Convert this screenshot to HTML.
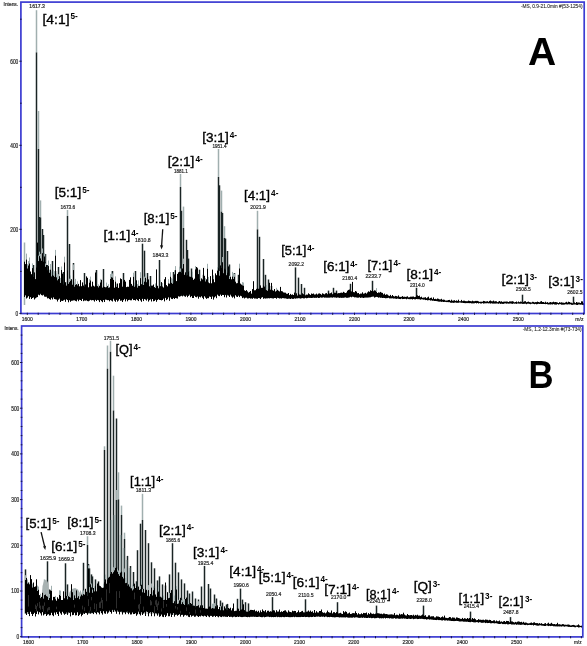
<!DOCTYPE html>
<html><head><meta charset="utf-8"><title>Mass spectra A and B</title>
<style>html,body{margin:0;padding:0;background:#fff;width:587px;height:646px;overflow:hidden}svg{display:block}</style>
</head><body>
<svg width="587" height="646" viewBox="0 0 587 646" font-family="'Liberation Sans', sans-serif" fill="#222">
<rect width="587" height="646" fill="#fff"/>
<g id="specA">
<line x1="24.50" y1="242.5" x2="24.50" y2="305.0" stroke="#a0afaf" stroke-width="1.5"/>
<line x1="33.50" y1="265.0" x2="33.50" y2="297.5" stroke="#1a2424" stroke-width="1.5"/>
<line x1="36.50" y1="10.2" x2="36.50" y2="52.4" stroke="#a0afaf" stroke-width="1.5"/>
<line x1="36.50" y1="52.4" x2="36.50" y2="295.8" stroke="#1a2424" stroke-width="1.5"/>
<line x1="38.50" y1="111.0" x2="38.50" y2="149.0" stroke="#a0afaf" stroke-width="1.5"/>
<line x1="38.50" y1="149.0" x2="38.50" y2="294.5" stroke="#1a2424" stroke-width="1.5"/>
<line x1="40.50" y1="200.4" x2="40.50" y2="217.5" stroke="#a0afaf" stroke-width="1.5"/>
<line x1="40.50" y1="217.5" x2="40.50" y2="294.2" stroke="#1a2424" stroke-width="1.5"/>
<line x1="39.50" y1="217.0" x2="39.50" y2="294.1" stroke="#1a2424" stroke-width="1.5"/>
<line x1="42.50" y1="229.0" x2="42.50" y2="294.6" stroke="#1a2424" stroke-width="1.5"/>
<line x1="43.50" y1="235.0" x2="43.50" y2="294.9" stroke="#1a2424" stroke-width="1.5"/>
<line x1="45.50" y1="254.0" x2="45.50" y2="295.7" stroke="#1a2424" stroke-width="1.5"/>
<line x1="44.50" y1="253.6" x2="44.50" y2="262.0" stroke="#a0afaf" stroke-width="1.5"/>
<line x1="44.50" y1="262.0" x2="44.50" y2="295.4" stroke="#1a2424" stroke-width="1.5"/>
<line x1="47.50" y1="265.0" x2="47.50" y2="297.3" stroke="#1a2424" stroke-width="1.5"/>
<line x1="52.50" y1="261.0" x2="52.50" y2="298.3" stroke="#1a2424" stroke-width="1.5"/>
<line x1="55.50" y1="271.0" x2="55.50" y2="298.7" stroke="#1a2424" stroke-width="1.5"/>
<line x1="58.50" y1="267.0" x2="58.50" y2="299.4" stroke="#1a2424" stroke-width="1.5"/>
<line x1="63.50" y1="272.0" x2="63.50" y2="299.9" stroke="#1a2424" stroke-width="1.5"/>
<line x1="67.50" y1="210.0" x2="67.50" y2="216.0" stroke="#a0afaf" stroke-width="1.5"/>
<line x1="67.50" y1="216.0" x2="67.50" y2="300.0" stroke="#1a2424" stroke-width="1.5"/>
<line x1="69.50" y1="244.0" x2="69.50" y2="300.0" stroke="#1a2424" stroke-width="1.5"/>
<line x1="73.50" y1="263.0" x2="73.50" y2="300.0" stroke="#1a2424" stroke-width="1.5"/>
<line x1="84.50" y1="273.0" x2="84.50" y2="300.0" stroke="#1a2424" stroke-width="1.5"/>
<line x1="96.50" y1="270.0" x2="96.50" y2="300.0" stroke="#1a2424" stroke-width="1.5"/>
<line x1="103.50" y1="269.0" x2="103.50" y2="299.9" stroke="#1a2424" stroke-width="1.5"/>
<line x1="112.50" y1="271.0" x2="112.50" y2="299.8" stroke="#1a2424" stroke-width="1.5"/>
<line x1="123.50" y1="273.0" x2="123.50" y2="299.7" stroke="#1a2424" stroke-width="1.5"/>
<line x1="135.50" y1="271.0" x2="135.50" y2="299.5" stroke="#1a2424" stroke-width="1.5"/>
<line x1="142.50" y1="243.7" x2="142.50" y2="299.0" stroke="#1a2424" stroke-width="1.5"/>
<line x1="144.50" y1="250.7" x2="144.50" y2="299.0" stroke="#1a2424" stroke-width="1.5"/>
<line x1="147.50" y1="273.0" x2="147.50" y2="299.2" stroke="#1a2424" stroke-width="1.5"/>
<line x1="150.50" y1="276.0" x2="150.50" y2="299.5" stroke="#1a2424" stroke-width="1.5"/>
<line x1="159.50" y1="260.0" x2="159.50" y2="299.3" stroke="#1a2424" stroke-width="1.5"/>
<line x1="173.50" y1="272.0" x2="173.50" y2="298.1" stroke="#1a2424" stroke-width="1.5"/>
<line x1="180.50" y1="174.0" x2="180.50" y2="187.0" stroke="#a0afaf" stroke-width="1.5"/>
<line x1="180.50" y1="187.0" x2="180.50" y2="296.0" stroke="#1a2424" stroke-width="1.5"/>
<line x1="181.50" y1="210.8" x2="181.50" y2="295.9" stroke="#1a2424" stroke-width="1.5"/>
<line x1="183.50" y1="206.6" x2="183.50" y2="228.0" stroke="#a0afaf" stroke-width="1.5"/>
<line x1="183.50" y1="228.0" x2="183.50" y2="295.7" stroke="#1a2424" stroke-width="1.5"/>
<line x1="186.50" y1="239.8" x2="186.50" y2="295.6" stroke="#1a2424" stroke-width="1.5"/>
<line x1="187.50" y1="250.0" x2="187.50" y2="295.7" stroke="#1a2424" stroke-width="1.5"/>
<line x1="188.50" y1="258.6" x2="188.50" y2="295.9" stroke="#1a2424" stroke-width="1.5"/>
<line x1="191.50" y1="268.5" x2="191.50" y2="296.2" stroke="#1a2424" stroke-width="1.5"/>
<line x1="196.50" y1="267.0" x2="196.50" y2="296.6" stroke="#1a2424" stroke-width="1.5"/>
<line x1="199.50" y1="269.7" x2="199.50" y2="296.9" stroke="#1a2424" stroke-width="1.5"/>
<line x1="203.50" y1="274.8" x2="203.50" y2="297.0" stroke="#1a2424" stroke-width="1.5"/>
<line x1="218.50" y1="149.0" x2="218.50" y2="177.0" stroke="#a0afaf" stroke-width="1.5"/>
<line x1="218.50" y1="177.0" x2="218.50" y2="295.0" stroke="#1a2424" stroke-width="1.5"/>
<line x1="219.50" y1="185.3" x2="219.50" y2="295.0" stroke="#1a2424" stroke-width="1.5"/>
<line x1="221.50" y1="190.6" x2="221.50" y2="211.7" stroke="#a0afaf" stroke-width="1.5"/>
<line x1="221.50" y1="211.7" x2="221.50" y2="295.0" stroke="#1a2424" stroke-width="1.5"/>
<line x1="222.50" y1="213.0" x2="222.50" y2="295.0" stroke="#1a2424" stroke-width="1.5"/>
<line x1="224.50" y1="226.2" x2="224.50" y2="238.0" stroke="#a0afaf" stroke-width="1.5"/>
<line x1="224.50" y1="238.0" x2="224.50" y2="295.0" stroke="#1a2424" stroke-width="1.5"/>
<line x1="225.50" y1="238.6" x2="225.50" y2="295.1" stroke="#1a2424" stroke-width="1.5"/>
<line x1="227.50" y1="251.0" x2="227.50" y2="295.3" stroke="#1a2424" stroke-width="1.5"/>
<line x1="229.50" y1="264.5" x2="229.50" y2="295.7" stroke="#1a2424" stroke-width="1.5"/>
<line x1="234.50" y1="273.0" x2="234.50" y2="295.9" stroke="#1a2424" stroke-width="1.5"/>
<line x1="238.50" y1="274.8" x2="238.50" y2="295.7" stroke="#1a2424" stroke-width="1.5"/>
<line x1="257.50" y1="210.8" x2="257.50" y2="229.4" stroke="#a0afaf" stroke-width="1.5"/>
<line x1="257.50" y1="229.4" x2="257.50" y2="297.4" stroke="#1a2424" stroke-width="1.5"/>
<line x1="259.50" y1="236.8" x2="259.50" y2="297.3" stroke="#1a2424" stroke-width="1.5"/>
<line x1="263.50" y1="259.0" x2="263.50" y2="297.3" stroke="#1a2424" stroke-width="1.5"/>
<line x1="265.50" y1="274.8" x2="265.50" y2="297.3" stroke="#1a2424" stroke-width="1.5"/>
<line x1="268.50" y1="279.5" x2="268.50" y2="297.3" stroke="#1a2424" stroke-width="1.5"/>
<line x1="271.50" y1="286.0" x2="271.50" y2="297.3" stroke="#1a2424" stroke-width="1.5"/>
<line x1="295.50" y1="267.4" x2="295.50" y2="297.6" stroke="#1a2424" stroke-width="1.5"/>
<line x1="298.50" y1="277.6" x2="298.50" y2="297.5" stroke="#1a2424" stroke-width="1.5"/>
<line x1="301.50" y1="284.0" x2="301.50" y2="297.3" stroke="#1a2424" stroke-width="1.5"/>
<line x1="304.50" y1="287.8" x2="304.50" y2="297.2" stroke="#1a2424" stroke-width="1.5"/>
<line x1="328.50" y1="290.6" x2="328.50" y2="296.5" stroke="#1a2424" stroke-width="1.5"/>
<line x1="333.50" y1="287.8" x2="333.50" y2="296.5" stroke="#1a2424" stroke-width="1.5"/>
<line x1="336.50" y1="290.6" x2="336.50" y2="296.6" stroke="#1a2424" stroke-width="1.5"/>
<line x1="350.50" y1="283.8" x2="350.50" y2="296.2" stroke="#1a2424" stroke-width="1.5"/>
<line x1="372.50" y1="280.8" x2="372.50" y2="296.0" stroke="#1a2424" stroke-width="1.5"/>
<line x1="416.50" y1="287.8" x2="416.50" y2="298.2" stroke="#1a2424" stroke-width="1.5"/>
<line x1="522.50" y1="294.7" x2="522.50" y2="302.8" stroke="#1a2424" stroke-width="1.5"/>
<line x1="573.50" y1="296.7" x2="573.50" y2="303.6" stroke="#1a2424" stroke-width="1.5"/>
<path d="M26.5 253.6V259.5M27.5 264.1V268.4M28.5 261.0V265.4M29.5 257.5V263.4M32.5 263.4V268.1M38.5 255.6V261.2M39.5 251.7V256.3M40.5 253.9V258.6M42.5 248.5V253.4M44.5 253.1V256.5M45.5 263.5V266.9M48.5 260.5V266.1M49.5 269.7V272.7M50.5 264.0V269.6M51.5 271.4V276.4M53.5 269.8V275.7M54.5 271.3V276.9M55.5 249.9V255.6M56.5 273.4V277.3M57.5 275.6V280.3M58.5 274.2V279.1M60.5 277.9V282.9M61.5 266.5V270.0M64.5 256.7V262.4M66.5 281.9V285.6M69.5 278.7V282.4M70.5 275.5V280.8M72.5 280.2V284.7M73.5 264.5V270.2M74.5 282.4V286.7M75.5 278.9V284.8M77.5 281.3V285.3M89.5 279.2V282.6M90.5 276.6V280.4M98.5 284.3V287.3M100.5 278.9V282.4M106.5 282.6V287.1M108.5 284.2V287.8M110.5 274.1V279.0M111.5 271.3V277.2M112.5 273.5V277.8M115.5 276.4V281.6M116.5 283.6V286.8M133.5 272.7V276.8M134.5 282.5V286.8M137.5 284.0V287.5M138.5 280.4V285.8M140.5 272.2V278.1M143.5 279.2V285.0M144.5 276.7V281.8M145.5 273.2V277.8M146.5 279.0V282.2M155.5 283.4V288.0M160.5 280.1V286.1M162.5 283.0V286.4M168.5 279.2V283.3M170.5 272.2V276.7M171.5 278.2V282.8M172.5 278.8V283.9M174.5 270.2V274.3M175.5 266.1V270.1M179.5 266.7V271.8M180.5 268.5V271.9M182.5 262.7V268.5M183.5 258.7V264.1M189.5 270.9V276.5M192.5 271.7V277.6M195.5 266.0V269.4M205.5 278.1V281.4M207.5 263.8V268.7M208.5 276.9V282.3M213.5 275.3V279.2M217.5 267.2V270.6M219.5 271.0V275.8M222.5 257.0V262.4M226.5 269.5V275.2M229.5 275.8V279.1M232.5 271.9V276.5M233.5 273.3V279.0M234.5 273.8V276.9M239.5 263.7V268.4M242.5 282.0V285.3M243.5 282.5V285.7M266.5 285.0V290.1M276.5 287.8V290.8M376.5 288.1V291.9" stroke="#a0afaf" stroke-width="1" fill="none"/>
<path d="M24.5 261.7V297.0M25.5 264.1V295.4M26.5 259.5V298.5M27.5 268.4V297.6M28.5 265.4V296.2M29.5 263.4V298.9M30.5 271.5V297.2M31.5 274.2V299.0M32.5 268.1V298.0M33.5 276.9V297.1M34.5 272.4V299.5M35.5 279.1V298.3M36.5 267.5V297.5M37.5 242.6V297.1M38.5 261.2V294.5M39.5 256.3V295.3M40.5 258.6V293.0M41.5 260.8V295.1M42.5 253.4V295.5M43.5 261.7V294.0M44.5 256.5V296.6M45.5 266.9V296.8M46.5 265.0V296.7M47.5 270.3V298.4M48.5 266.1V298.2M49.5 272.7V299.1M50.5 269.6V299.7M51.5 276.4V297.8M52.5 275.0V299.4M53.5 275.7V297.3M54.5 276.9V299.0M55.5 255.6V299.3M56.5 277.3V299.6M57.5 280.3V301.5M58.5 279.1V299.6M59.5 276.2V298.6M60.5 282.9V302.0M61.5 270.0V300.8M62.5 273.6V301.0M63.5 284.5V300.4M64.5 262.4V299.7M65.5 282.2V301.8M66.5 285.6V299.2M67.5 270.4V300.1M68.5 283.9V302.3M69.5 282.4V300.2M70.5 280.8V301.8M71.5 279.2V300.8M72.5 284.7V300.7M73.5 270.2V300.4M74.5 286.7V300.3M75.5 284.8V300.9M76.5 284.2V301.4M77.5 285.3V299.6M78.5 283.9V301.2M79.5 286.3V299.8M80.5 280.1V300.0M81.5 286.2V301.0M82.5 282.4V298.9M83.5 285.5V301.2M84.5 286.8V300.5M85.5 284.4V300.7M86.5 276.4V300.4M87.5 277.8V301.1M88.5 287.3V301.3M89.5 282.6V300.7M90.5 280.4V299.9M91.5 286.5V300.4M92.5 281.7V300.1M93.5 285.7V300.3M94.5 286.5V301.6M95.5 272.5V299.8M96.5 285.8V301.0M97.5 286.1V299.9M98.5 287.3V300.3M99.5 285.8V302.1M100.5 282.4V300.1M101.5 279.8V301.2M102.5 287.6V302.2M103.5 286.5V300.1M104.5 286.9V302.0M105.5 287.3V299.6M106.5 287.1V299.8M107.5 285.9V300.2M108.5 287.8V300.1M109.5 287.4V301.3M110.5 279.0V300.1M111.5 277.2V300.7M112.5 277.8V301.5M113.5 279.9V298.8M114.5 287.7V300.7M115.5 281.6V301.8M116.5 286.8V299.9M117.5 283.5V301.6M118.5 287.9V300.6M119.5 283.2V299.1M120.5 278.4V300.8M121.5 279.1V300.5M122.5 286.7V302.0M123.5 281.4V300.2M124.5 279.9V298.9M125.5 281.6V301.4M126.5 287.1V299.3M127.5 286.7V301.3M128.5 286.8V300.1M129.5 279.9V299.8M130.5 277.3V300.3M131.5 283.9V300.3M132.5 285.7V298.8M133.5 276.8V300.1M134.5 286.8V300.0M135.5 285.7V300.6M136.5 280.3V299.2M137.5 287.5V300.2M138.5 285.8V301.1M139.5 285.9V299.0M140.5 278.1V300.4M141.5 284.2V301.8M142.5 284.8V297.9M143.5 285.0V301.1M144.5 281.8V299.1M145.5 277.8V299.6M146.5 282.2V300.6M147.5 276.8V297.9M148.5 279.4V301.6M149.5 286.3V300.2M150.5 287.9V298.8M151.5 285.6V301.5M152.5 285.6V299.0M153.5 284.5V301.3M154.5 287.1V300.9M155.5 288.0V299.8M156.5 269.4V301.8M157.5 285.8V300.1M158.5 288.3V299.2M159.5 286.6V299.9M160.5 286.1V300.0M161.5 282.1V300.4M162.5 286.4V300.0M163.5 287.5V298.7M164.5 279.3V301.4M165.5 277.1V297.9M166.5 285.1V300.1M167.5 286.3V299.2M168.5 283.3V297.4M169.5 283.7V300.8M170.5 276.7V297.5M171.5 282.8V298.9M172.5 283.9V299.1M173.5 282.9V297.9M174.5 274.3V299.0M175.5 270.1V298.0M176.5 281.1V298.3M177.5 273.9V298.6M178.5 272.3V296.3M179.5 271.8V296.7M180.5 271.9V296.3M181.5 273.1V294.8M182.5 268.5V296.4M183.5 264.1V294.8M184.5 274.8V296.3M185.5 272.3V296.8M186.5 275.6V294.8M187.5 275.1V297.2M188.5 271.8V295.6M189.5 276.5V294.7M190.5 276.8V297.2M191.5 276.9V296.0M192.5 277.6V298.0M193.5 279.8V298.0M194.5 278.7V295.8M195.5 269.4V296.9M196.5 267.0V297.3M197.5 268.2V296.4M198.5 274.1V298.7M199.5 279.2V296.1M200.5 281.2V297.4M201.5 278.4V296.3M202.5 279.4V297.8M203.5 267.9V299.2M204.5 276.0V296.1M205.5 281.4V297.7M206.5 279.3V298.9M207.5 268.7V298.2M208.5 282.3V298.2M209.5 283.2V296.6M210.5 276.1V296.9M211.5 283.3V299.0M212.5 269.6V296.5M213.5 279.2V299.6M214.5 282.2V297.4M215.5 273.4V296.4M216.5 275.2V298.2M217.5 270.6V294.6M218.5 268.3V295.8M219.5 275.8V296.2M220.5 265.4V294.4M221.5 268.0V296.0M222.5 262.4V294.4M223.5 273.2V295.0M224.5 268.7V297.2M225.5 269.6V294.4M226.5 275.2V297.5M227.5 272.8V294.4M228.5 266.4V295.5M229.5 279.1V297.0M230.5 276.8V294.7M231.5 279.3V296.5M232.5 276.5V297.7M233.5 279.0V296.7M234.5 276.9V298.4M235.5 281.7V295.1M236.5 283.3V296.6M237.5 283.1V297.0M238.5 280.6V295.2M239.5 268.4V297.1M240.5 283.6V295.8M241.5 284.6V296.3M242.5 285.3V298.1M243.5 285.7V297.6M244.5 290.3V298.5M245.5 290.9V297.8M246.5 290.1V297.7M247.5 291.4V298.5M248.5 292.6V298.4M249.5 291.9V298.1M250.5 291.0V298.6M251.5 293.6V298.4M252.5 289.1V298.8M253.5 281.2V297.9M254.5 290.3V298.6M255.5 290.2V298.5M256.5 288.9V298.7M257.5 288.4V298.8M258.5 288.8V298.0M259.5 288.6V298.2M260.5 285.4V299.1M261.5 287.8V297.7M262.5 287.8V297.1M263.5 285.5V298.8M264.5 286.6V298.3M265.5 289.6V298.6M266.5 290.1V298.4M267.5 290.8V298.4M268.5 289.2V298.2M269.5 282.8V298.4M270.5 289.7V298.1M271.5 282.9V298.2M272.5 290.2V298.4M273.5 290.7V298.5M274.5 289.0V298.0M275.5 291.5V298.0M276.5 290.8V298.8M277.5 289.8V297.8M278.5 290.7V298.1M279.5 291.4V298.5M280.5 286.9V298.3M281.5 291.1V298.6M282.5 291.4V298.1M283.5 292.4V298.2M284.5 292.6V298.4M285.5 292.7V298.4M286.5 293.7V298.7M287.5 293.8V298.9M288.5 293.0V298.7M289.5 295.1V298.7M290.5 293.9V299.0M291.5 294.8V298.5M292.5 294.4V298.9M293.5 295.0V298.9M294.5 292.6V298.4M295.5 294.9V298.7M296.5 293.3V298.4M297.5 295.5V298.4M298.5 293.4V298.2M299.5 294.5V298.3M300.5 294.7V298.6M301.5 295.4V298.3M302.5 293.3V298.1M303.5 294.2V298.4M304.5 294.7V298.4M305.5 295.3V297.9M306.5 294.6V298.3M307.5 294.7V298.1M308.5 293.3V297.8M309.5 294.2V297.9M310.5 294.9V297.9M311.5 293.5V298.0M312.5 293.9V297.9M313.5 293.5V297.7M314.5 294.5V297.9M315.5 294.4V297.8M316.5 293.6V297.9M317.5 294.5V297.5M318.5 293.6V298.0M319.5 293.4V297.9M320.5 293.9V297.4M321.5 294.7V297.7M322.5 293.3V297.6M323.5 293.8V297.3M324.5 294.3V297.7M325.5 293.4V297.6M326.5 293.1V297.7M327.5 294.2V297.7M328.5 292.7V297.7M329.5 293.5V297.7M330.5 293.2V297.5M331.5 292.5V297.5M332.5 294.2V297.7M333.5 293.9V297.3M334.5 292.7V297.5M335.5 292.8V297.5M336.5 292.8V297.8M337.5 293.5V297.5M338.5 293.1V297.6M339.5 293.1V297.9M340.5 292.8V297.7M341.5 292.6V297.9M342.5 292.8V297.8M343.5 291.8V297.8M344.5 292.5V297.6M345.5 293.0V297.4M346.5 292.5V297.8M347.5 290.7V297.8M348.5 289.9V297.6M349.5 289.5V297.4M350.5 290.9V296.8M351.5 291.4V297.3M352.5 281.9V296.7M353.5 292.1V296.9M354.5 292.3V297.4M355.5 291.0V297.3M356.5 291.6V297.5M357.5 293.2V297.7M358.5 293.0V297.7M359.5 294.2V297.3M360.5 293.6V297.9M361.5 293.6V297.6M362.5 292.3V297.7M363.5 293.7V298.0M364.5 293.4V297.7M365.5 292.8V297.6M366.5 293.6V297.6M367.5 292.4V297.6M368.5 291.3V297.5M369.5 291.8V297.4M370.5 290.3V297.3M371.5 291.0V296.9M372.5 289.8V296.7M373.5 291.2V296.6M374.5 290.3V297.6M375.5 290.6V297.2M376.5 291.9V296.9M377.5 293.0V297.1M378.5 292.4V297.7M379.5 292.6V297.4M380.5 291.9V297.8M381.5 292.6V297.7M382.5 292.9V298.0M383.5 294.4V297.9M384.5 293.6V298.0M385.5 294.9V298.3M386.5 294.3V298.2M387.5 294.6V298.1M388.5 295.5V297.8M389.5 295.9V298.4M390.5 294.9V298.4M391.5 296.2V298.4M392.5 295.0V298.3M393.5 296.1V298.6M394.5 296.5V298.5M395.5 295.9V298.7M396.5 296.1V298.9M397.5 296.5V298.6M398.5 295.4V298.8M399.5 296.8V299.0M400.5 296.9V299.1M401.5 296.8V298.6M402.5 296.1V299.1M403.5 296.8V299.0M404.5 296.7V298.9M405.5 296.9V298.8M406.5 296.7V299.3M407.5 296.3V298.8M408.5 297.3V299.1M409.5 297.2V299.2M410.5 296.7V299.2M411.5 296.7V299.1M412.5 296.6V299.5M413.5 296.5V299.0M414.5 297.1V299.3M415.5 296.9V299.4M416.5 295.5V299.0M417.5 295.3V299.2M418.5 296.0V299.2M419.5 295.6V299.3M420.5 297.2V299.7M421.5 296.7V299.3M422.5 297.8V299.4M423.5 297.6V299.7M424.5 297.5V299.6M425.5 297.2V300.1M426.5 298.2V300.0M427.5 297.4V300.4M428.5 296.7V300.2M429.5 298.5V300.1M430.5 297.9V300.6M431.5 297.6V300.4M432.5 298.9V300.8M433.5 297.4V300.7M434.5 299.0V301.0M435.5 298.8V301.0M436.5 299.2V301.1M437.5 298.5V301.3M438.5 298.8V301.6M439.5 299.3V301.7M440.5 299.4V301.6M441.5 298.8V301.9M442.5 299.8V301.7M443.5 299.6V302.0M444.5 299.8V301.9M445.5 300.5V301.9M446.5 300.5V302.1M447.5 300.4V302.1M448.5 300.0V302.2M449.5 299.9V302.2M450.5 300.8V302.7M451.5 299.7V302.8M452.5 300.7V302.7M453.5 300.5V302.9M454.5 300.2V302.7M455.5 300.9V302.5M456.5 300.4V302.8M457.5 300.9V302.8M458.5 299.7V302.8M459.5 301.2V302.5M460.5 301.2V302.6M461.5 299.9V302.8M462.5 301.1V302.8M463.5 300.7V303.0M464.5 300.7V303.1M465.5 301.1V303.2M466.5 301.2V303.1M467.5 301.2V303.1M468.5 300.6V303.1M469.5 300.9V303.2M470.5 301.1V303.1M471.5 301.3V303.4M472.5 300.7V303.4M473.5 301.2V303.4M474.5 301.2V303.3M475.5 300.9V303.0M476.5 300.9V303.4M477.5 300.9V303.0M478.5 301.3V303.5M479.5 301.8V303.1M480.5 301.7V303.5M481.5 301.7V303.5M482.5 301.7V303.1M483.5 300.9V303.6M484.5 301.1V303.4M485.5 301.5V303.3M486.5 301.4V303.3M487.5 301.2V303.2M488.5 301.8V303.4M489.5 300.9V303.3M490.5 300.5V303.6M491.5 301.2V303.3M492.5 301.3V303.6M493.5 300.6V303.6M494.5 301.4V303.6M495.5 301.2V303.6M496.5 301.3V303.5M497.5 302.1V303.5M498.5 301.6V303.8M499.5 301.0V303.4M500.5 301.6V303.9M501.5 301.3V303.7M502.5 301.9V303.9M503.5 301.7V303.9M504.5 301.6V303.5M505.5 301.6V303.4M506.5 301.5V303.7M507.5 301.6V303.5M508.5 302.0V303.7M509.5 301.4V303.6M510.5 301.4V303.5M511.5 301.4V303.7M512.5 301.2V303.9M513.5 301.6V303.5M514.5 302.3V303.7M515.5 302.0V303.6M516.5 301.5V303.9M517.5 302.3V303.5M518.5 301.5V303.6M519.5 302.1V303.7M520.5 301.6V303.7M521.5 301.8V303.6M522.5 302.3V303.9M523.5 301.9V303.9M524.5 301.3V303.8M525.5 301.2V303.7M526.5 302.2V304.2M527.5 301.9V303.7M528.5 301.6V303.7M529.5 302.1V303.9M530.5 302.3V304.2M531.5 302.5V303.8M532.5 301.8V303.7M533.5 301.9V303.9M534.5 302.4V304.2M535.5 302.1V303.9M536.5 302.1V304.3M537.5 301.6V304.1M538.5 302.0V303.8M539.5 302.3V304.0M540.5 301.5V303.9M541.5 301.1V304.0M542.5 302.0V304.0M543.5 302.0V304.0M544.5 302.6V304.0M545.5 301.7V304.2M546.5 302.6V304.0M547.5 302.1V304.3M548.5 302.8V304.5M549.5 302.4V304.4M550.5 302.0V304.5M551.5 302.4V304.3M552.5 302.2V304.5M553.5 301.7V304.1M554.5 302.2V304.5M555.5 302.0V304.6M556.5 302.2V304.6M557.5 302.5V304.1M558.5 303.0V304.6M559.5 302.2V304.2M560.5 302.6V304.2M561.5 302.3V304.7M562.5 302.6V304.7M563.5 302.7V304.7M564.5 302.9V304.6M565.5 302.4V304.3M566.5 301.8V304.4M567.5 302.6V304.5M568.5 301.7V304.3M569.5 302.0V304.4M570.5 302.6V304.3M571.5 302.7V304.8M572.5 303.2V304.9M573.5 303.1V304.6M574.5 302.4V304.5M575.5 303.1V304.5M576.5 302.0V304.9M577.5 302.5V305.0M578.5 302.5V304.5M579.5 302.6V304.5M580.5 303.0V304.7M581.5 301.3V304.6M582.5 301.4V304.9M583.5 303.1V305.1M584.5 303.3V304.6" stroke="#000" stroke-width="1" fill="none"/>
</g>
<g id="specB">
<line x1="25.50" y1="569.4" x2="25.50" y2="613.6" stroke="#1a2424" stroke-width="1.5"/>
<line x1="28.50" y1="582.4" x2="28.50" y2="614.0" stroke="#1a2424" stroke-width="1.5"/>
<line x1="32.50" y1="587.5" x2="32.50" y2="614.0" stroke="#1a2424" stroke-width="1.5"/>
<line x1="44.50" y1="579.4" x2="44.50" y2="600.0" stroke="#a0afaf" stroke-width="1.5"/>
<line x1="44.50" y1="600.0" x2="44.50" y2="614.0" stroke="#1a2424" stroke-width="1.5"/>
<line x1="45.50" y1="583.4" x2="45.50" y2="614.0" stroke="#1a2424" stroke-width="1.5"/>
<line x1="47.50" y1="561.3" x2="47.50" y2="614.0" stroke="#1a2424" stroke-width="1.5"/>
<line x1="49.50" y1="589.5" x2="49.50" y2="614.0" stroke="#1a2424" stroke-width="1.5"/>
<line x1="65.50" y1="563.3" x2="65.50" y2="614.0" stroke="#1a2424" stroke-width="1.5"/>
<line x1="67.50" y1="584.4" x2="67.50" y2="614.0" stroke="#1a2424" stroke-width="1.5"/>
<line x1="80.50" y1="592.5" x2="80.50" y2="613.8" stroke="#1a2424" stroke-width="1.5"/>
<line x1="83.50" y1="562.8" x2="83.50" y2="613.6" stroke="#1a2424" stroke-width="1.5"/>
<line x1="87.50" y1="536.2" x2="87.50" y2="545.0" stroke="#a0afaf" stroke-width="1.5"/>
<line x1="87.50" y1="545.0" x2="87.50" y2="613.4" stroke="#1a2424" stroke-width="1.5"/>
<line x1="88.50" y1="564.0" x2="88.50" y2="613.3" stroke="#1a2424" stroke-width="1.5"/>
<line x1="89.50" y1="568.4" x2="89.50" y2="613.3" stroke="#1a2424" stroke-width="1.5"/>
<line x1="91.50" y1="574.4" x2="91.50" y2="613.2" stroke="#1a2424" stroke-width="1.5"/>
<line x1="92.50" y1="576.4" x2="92.50" y2="613.1" stroke="#1a2424" stroke-width="1.5"/>
<line x1="95.50" y1="579.4" x2="95.50" y2="613.0" stroke="#1a2424" stroke-width="1.5"/>
<line x1="98.50" y1="581.4" x2="98.50" y2="612.7" stroke="#1a2424" stroke-width="1.5"/>
<line x1="101.50" y1="588.5" x2="101.50" y2="612.4" stroke="#1a2424" stroke-width="1.5"/>
<line x1="104.50" y1="446.3" x2="104.50" y2="450.0" stroke="#a0afaf" stroke-width="1.5"/>
<line x1="104.50" y1="450.0" x2="104.50" y2="612.0" stroke="#1a2424" stroke-width="1.5"/>
<line x1="107.50" y1="345.5" x2="107.50" y2="368.7" stroke="#a0afaf" stroke-width="1.5"/>
<line x1="107.50" y1="368.7" x2="107.50" y2="612.0" stroke="#1a2424" stroke-width="1.5"/>
<line x1="110.50" y1="340.8" x2="110.50" y2="351.7" stroke="#a0afaf" stroke-width="1.5"/>
<line x1="110.50" y1="351.7" x2="110.50" y2="611.7" stroke="#1a2424" stroke-width="1.5"/>
<line x1="113.50" y1="375.7" x2="113.50" y2="410.5" stroke="#a0afaf" stroke-width="1.5"/>
<line x1="113.50" y1="410.5" x2="113.50" y2="611.5" stroke="#1a2424" stroke-width="1.5"/>
<line x1="116.50" y1="418.5" x2="116.50" y2="611.5" stroke="#1a2424" stroke-width="1.5"/>
<line x1="118.50" y1="472.3" x2="118.50" y2="499.4" stroke="#a0afaf" stroke-width="1.5"/>
<line x1="118.50" y1="499.4" x2="118.50" y2="611.8" stroke="#1a2424" stroke-width="1.5"/>
<line x1="121.50" y1="505.6" x2="121.50" y2="514.9" stroke="#a0afaf" stroke-width="1.5"/>
<line x1="121.50" y1="514.9" x2="121.50" y2="612.2" stroke="#1a2424" stroke-width="1.5"/>
<line x1="124.50" y1="532.7" x2="124.50" y2="538.9" stroke="#a0afaf" stroke-width="1.5"/>
<line x1="124.50" y1="538.9" x2="124.50" y2="612.5" stroke="#1a2424" stroke-width="1.5"/>
<line x1="127.50" y1="555.9" x2="127.50" y2="612.8" stroke="#1a2424" stroke-width="1.5"/>
<line x1="130.50" y1="566.0" x2="130.50" y2="613.1" stroke="#1a2424" stroke-width="1.5"/>
<line x1="133.50" y1="572.0" x2="133.50" y2="613.3" stroke="#1a2424" stroke-width="1.5"/>
<line x1="136.50" y1="581.3" x2="136.50" y2="613.5" stroke="#1a2424" stroke-width="1.5"/>
<line x1="108.50" y1="540.0" x2="108.50" y2="611.9" stroke="#a0afaf" stroke-width="1.5"/>
<line x1="111.50" y1="520.0" x2="111.50" y2="611.5" stroke="#a0afaf" stroke-width="1.5"/>
<line x1="114.50" y1="515.0" x2="114.50" y2="611.5" stroke="#a0afaf" stroke-width="1.5"/>
<line x1="116.50" y1="490.0" x2="116.50" y2="500.0" stroke="#a0afaf" stroke-width="1.5"/>
<line x1="116.50" y1="500.0" x2="116.50" y2="611.5" stroke="#1a2424" stroke-width="1.5"/>
<line x1="120.50" y1="535.0" x2="120.50" y2="612.0" stroke="#a0afaf" stroke-width="1.5"/>
<line x1="123.50" y1="548.0" x2="123.50" y2="612.3" stroke="#a0afaf" stroke-width="1.5"/>
<line x1="126.50" y1="560.0" x2="126.50" y2="612.6" stroke="#a0afaf" stroke-width="1.5"/>
<line x1="129.50" y1="568.0" x2="129.50" y2="612.9" stroke="#a0afaf" stroke-width="1.5"/>
<line x1="137.50" y1="550.2" x2="137.50" y2="613.5" stroke="#1a2424" stroke-width="1.5"/>
<line x1="140.50" y1="523.7" x2="140.50" y2="613.5" stroke="#1a2424" stroke-width="1.5"/>
<line x1="142.50" y1="493.8" x2="142.50" y2="520.0" stroke="#a0afaf" stroke-width="1.5"/>
<line x1="142.50" y1="520.0" x2="142.50" y2="613.6" stroke="#1a2424" stroke-width="1.5"/>
<line x1="145.50" y1="530.0" x2="145.50" y2="613.8" stroke="#1a2424" stroke-width="1.5"/>
<line x1="148.50" y1="543.2" x2="148.50" y2="613.9" stroke="#1a2424" stroke-width="1.5"/>
<line x1="151.50" y1="562.3" x2="151.50" y2="614.1" stroke="#1a2424" stroke-width="1.5"/>
<line x1="154.50" y1="568.3" x2="154.50" y2="614.2" stroke="#1a2424" stroke-width="1.5"/>
<line x1="157.50" y1="580.4" x2="157.50" y2="614.4" stroke="#1a2424" stroke-width="1.5"/>
<line x1="159.50" y1="576.4" x2="159.50" y2="614.5" stroke="#1a2424" stroke-width="1.5"/>
<line x1="162.50" y1="584.4" x2="162.50" y2="614.6" stroke="#1a2424" stroke-width="1.5"/>
<line x1="165.50" y1="585.5" x2="165.50" y2="614.8" stroke="#1a2424" stroke-width="1.5"/>
<line x1="169.50" y1="574.4" x2="169.50" y2="615.0" stroke="#1a2424" stroke-width="1.5"/>
<line x1="172.50" y1="543.2" x2="172.50" y2="615.0" stroke="#1a2424" stroke-width="1.5"/>
<line x1="175.50" y1="562.7" x2="175.50" y2="615.0" stroke="#1a2424" stroke-width="1.5"/>
<line x1="178.50" y1="572.4" x2="178.50" y2="615.0" stroke="#1a2424" stroke-width="1.5"/>
<line x1="181.50" y1="579.4" x2="181.50" y2="615.0" stroke="#1a2424" stroke-width="1.5"/>
<line x1="184.50" y1="583.4" x2="184.50" y2="615.1" stroke="#1a2424" stroke-width="1.5"/>
<line x1="187.50" y1="590.5" x2="187.50" y2="615.1" stroke="#1a2424" stroke-width="1.5"/>
<line x1="189.50" y1="593.5" x2="189.50" y2="615.1" stroke="#1a2424" stroke-width="1.5"/>
<line x1="192.50" y1="591.5" x2="192.50" y2="615.2" stroke="#1a2424" stroke-width="1.5"/>
<line x1="195.50" y1="598.5" x2="195.50" y2="615.2" stroke="#1a2424" stroke-width="1.5"/>
<line x1="198.50" y1="599.5" x2="198.50" y2="615.3" stroke="#1a2424" stroke-width="1.5"/>
<line x1="201.50" y1="586.5" x2="201.50" y2="615.3" stroke="#1a2424" stroke-width="1.5"/>
<line x1="204.50" y1="565.9" x2="204.50" y2="615.4" stroke="#1a2424" stroke-width="1.5"/>
<line x1="208.50" y1="584.0" x2="208.50" y2="615.5" stroke="#1a2424" stroke-width="1.5"/>
<line x1="210.50" y1="588.5" x2="210.50" y2="615.6" stroke="#1a2424" stroke-width="1.5"/>
<line x1="214.50" y1="594.5" x2="214.50" y2="615.6" stroke="#1a2424" stroke-width="1.5"/>
<line x1="216.50" y1="598.5" x2="216.50" y2="615.7" stroke="#1a2424" stroke-width="1.5"/>
<line x1="220.50" y1="600.5" x2="220.50" y2="615.8" stroke="#1a2424" stroke-width="1.5"/>
<line x1="222.50" y1="602.6" x2="222.50" y2="615.8" stroke="#1a2424" stroke-width="1.5"/>
<line x1="226.50" y1="604.6" x2="226.50" y2="615.9" stroke="#1a2424" stroke-width="1.5"/>
<line x1="227.50" y1="603.9" x2="227.50" y2="615.9" stroke="#1a2424" stroke-width="1.5"/>
<line x1="237.50" y1="598.8" x2="237.50" y2="616.0" stroke="#1a2424" stroke-width="1.5"/>
<line x1="240.50" y1="588.6" x2="240.50" y2="616.0" stroke="#1a2424" stroke-width="1.5"/>
<line x1="242.50" y1="599.6" x2="242.50" y2="616.0" stroke="#1a2424" stroke-width="1.5"/>
<line x1="245.50" y1="602.2" x2="245.50" y2="616.0" stroke="#1a2424" stroke-width="1.5"/>
<line x1="248.50" y1="603.4" x2="248.50" y2="616.0" stroke="#1a2424" stroke-width="1.5"/>
<line x1="272.50" y1="597.1" x2="272.50" y2="616.0" stroke="#1a2424" stroke-width="1.5"/>
<line x1="305.50" y1="599.3" x2="305.50" y2="615.9" stroke="#1a2424" stroke-width="1.5"/>
<line x1="337.50" y1="602.2" x2="337.50" y2="616.2" stroke="#1a2424" stroke-width="1.5"/>
<line x1="376.50" y1="605.6" x2="376.50" y2="617.0" stroke="#1a2424" stroke-width="1.5"/>
<line x1="423.50" y1="605.6" x2="423.50" y2="618.2" stroke="#1a2424" stroke-width="1.5"/>
<line x1="470.50" y1="611.6" x2="470.50" y2="621.0" stroke="#1a2424" stroke-width="1.5"/>
<line x1="510.50" y1="617.1" x2="510.50" y2="623.3" stroke="#1a2424" stroke-width="1.5"/>
<line x1="518.50" y1="621.3" x2="518.50" y2="623.6" stroke="#1a2424" stroke-width="1.5"/>
<path d="M41.5 600 L42.5 586 L44 581 L46.5 579.5 L48.5 584 L49.5 600 Z" fill="#a8b2b2"/>
<path d="M68 600 L69.5 592 L72 589 L75 588 L78 589.5 L80.5 594 L81 600 Z" fill="#a8b2b2"/>
<path d="M25.5 575.2V580.0M27.5 579.5V583.6M32.5 583.6V587.6M37.5 585.6V591.0M38.5 586.6V589.7M40.5 593.8V598.1M45.5 589.7V594.6M48.5 594.5V600.0M49.5 593.9V598.0M51.5 585.8V590.8M55.5 595.9V599.2M59.5 590.3V594.9M60.5 590.6V595.9M67.5 596.2V599.5M73.5 596.1V600.0M80.5 590.6V596.5M82.5 589.8V595.6M83.5 590.5V594.3M88.5 565.3V568.6M89.5 587.1V592.8M91.5 583.5V587.6M92.5 589.6V592.9M94.5 586.3V591.4M103.5 583.7V587.6M105.5 574.6V579.4M113.5 567.3V572.3M114.5 564.6V570.4M117.5 568.7V571.8M118.5 570.5V574.3M119.5 572.3V575.9M122.5 572.1V576.9M123.5 574.2V578.5M124.5 568.5V572.5M125.5 578.0V583.1M129.5 583.1V586.6M132.5 584.6V590.4M133.5 586.3V589.5M140.5 585.9V589.4M141.5 578.9V584.8M142.5 589.1V592.5M147.5 591.3V595.9M148.5 585.1V590.3M151.5 583.5V587.8M152.5 591.8V595.4M153.5 586.4V590.2M158.5 587.0V591.6M163.5 595.6V600.1M169.5 592.9V597.9M174.5 595.5V601.2M176.5 586.1V589.5M178.5 599.8V603.7M181.5 600.2V604.3M182.5 598.8V602.2M183.5 600.7V604.0M184.5 599.2V605.0M188.5 600.6V604.2M198.5 601.2V605.4M212.5 603.7V608.0M213.5 603.9V608.4M214.5 603.2V608.7M220.5 606.1V610.4" stroke="#a0afaf" stroke-width="1" fill="none"/>
<path d="M25.5 580.0V613.0M26.5 577.9V615.0M27.5 583.6V612.2M28.5 583.5V612.0M29.5 584.3V616.1M30.5 575.1V611.8M31.5 579.1V613.9M32.5 587.6V616.0M33.5 582.5V614.1M34.5 586.9V612.8M35.5 586.4V616.5M36.5 579.3V614.0M37.5 591.0V611.4M38.5 589.7V614.4M39.5 595.1V612.2M40.5 598.1V613.4M41.5 596.9V615.5M42.5 592.8V612.2M43.5 598.6V615.4M44.5 595.1V614.3M45.5 594.6V612.2M46.5 596.1V616.0M47.5 596.7V614.7M48.5 600.0V614.2M49.5 598.0V615.5M50.5 590.4V615.2M51.5 590.8V612.8M52.5 600.3V615.2M53.5 596.9V616.2M54.5 596.9V612.6M55.5 599.2V614.7M56.5 600.7V612.2M57.5 597.3V614.0M58.5 598.8V616.0M59.5 594.9V611.7M60.5 595.9V613.4M61.5 600.0V614.8M62.5 600.0V611.8M63.5 591.3V613.4M64.5 598.3V614.8M65.5 592.0V613.0M66.5 595.9V612.5M67.5 599.5V614.9M68.5 596.2V612.5M69.5 597.0V612.9M70.5 597.6V616.4M71.5 584.2V612.3M72.5 592.2V615.2M73.5 600.0V614.9M74.5 595.4V612.8M75.5 598.2V615.4M76.5 590.4V615.2M77.5 597.8V612.3M78.5 596.2V616.0M79.5 599.2V614.9M80.5 596.5V612.4M81.5 594.6V616.3M82.5 595.6V614.9M83.5 594.3V612.6M84.5 594.7V614.0M85.5 588.8V612.9M86.5 591.8V613.1M87.5 596.0V614.8M88.5 568.6V612.2M89.5 592.8V610.7M90.5 584.3V613.7M91.5 587.6V611.6M92.5 592.9V612.6M93.5 588.0V614.1M94.5 591.4V612.1M95.5 585.7V611.5M96.5 591.3V614.3M97.5 583.5V612.1M98.5 582.4V612.3M99.5 585.7V614.4M100.5 586.2V611.0M101.5 587.4V613.2M102.5 587.9V614.6M103.5 587.6V611.0M104.5 582.2V613.4M105.5 579.4V613.8M106.5 583.7V611.2M107.5 579.6V613.7M108.5 577.7V612.5M109.5 576.8V610.7M110.5 574.1V612.0M111.5 572.0V613.7M112.5 573.6V609.9M113.5 572.3V612.0M114.5 570.4V609.9M115.5 567.9V611.4M116.5 567.5V613.8M117.5 571.8V610.4M118.5 574.3V611.3M119.5 575.9V614.4M120.5 572.6V611.8M121.5 571.6V611.1M122.5 576.9V614.5M123.5 578.5V612.3M124.5 572.5V612.1M125.5 583.1V614.2M126.5 582.9V611.9M127.5 585.9V611.3M128.5 584.4V614.2M129.5 586.6V612.5M130.5 588.3V614.5M131.5 588.3V614.4M132.5 590.4V612.4M133.5 589.5V614.1M134.5 583.7V614.0M135.5 588.0V613.2M136.5 586.2V615.8M137.5 589.9V614.4M138.5 586.6V611.7M139.5 589.9V614.2M140.5 589.4V615.5M141.5 584.8V612.0M142.5 592.5V615.0M143.5 588.9V613.5M144.5 592.8V612.4M145.5 590.3V616.0M146.5 589.8V611.5M147.5 595.9V612.0M148.5 590.3V616.3M149.5 596.3V612.9M150.5 594.0V612.2M151.5 587.8V616.2M152.5 595.4V612.2M153.5 590.2V612.9M154.5 588.3V616.3M155.5 594.5V613.2M156.5 596.8V613.5M157.5 592.8V615.7M158.5 591.6V613.3M159.5 596.8V616.8M160.5 596.7V616.2M161.5 597.5V614.5M162.5 598.1V616.7M163.5 600.1V617.1M164.5 599.8V614.8M165.5 582.5V617.0M166.5 600.0V615.7M167.5 592.2V613.2M168.5 598.2V616.3M169.5 597.9V616.2M170.5 592.9V613.5M171.5 590.1V617.0M172.5 603.0V613.8M173.5 603.1V613.1M174.5 601.2V616.7M175.5 603.9V613.6M176.5 589.5V614.5M177.5 603.9V615.8M178.5 603.7V614.7M179.5 600.4V614.0M180.5 597.8V616.6M181.5 604.3V614.4M182.5 602.2V614.8M183.5 604.0V616.8M184.5 605.0V615.4M185.5 599.0V614.9M186.5 597.6V615.6M187.5 605.2V615.3M188.5 604.2V616.8M189.5 605.4V617.1M190.5 603.0V615.1M191.5 603.9V616.7M192.5 605.9V615.8M193.5 605.6V615.6M194.5 605.8V616.8M195.5 607.4V616.6M196.5 606.1V615.5M197.5 605.9V616.2M198.5 605.4V617.0M199.5 607.5V616.1M200.5 605.4V616.5M201.5 607.9V615.4M202.5 605.3V616.1M203.5 608.0V616.5M204.5 607.7V615.6M205.5 608.6V616.2M206.5 608.6V617.0M207.5 608.8V615.4M208.5 607.3V616.4M209.5 606.5V617.2M210.5 606.7V615.7M211.5 608.6V615.9M212.5 608.0V616.9M213.5 608.4V616.5M214.5 608.7V615.7M215.5 606.2V617.0M216.5 607.3V616.0M217.5 605.3V616.5M218.5 609.1V617.3M219.5 607.0V616.2M220.5 610.4V616.8M221.5 606.4V617.1M222.5 610.2V616.4M223.5 610.3V616.7M224.5 606.4V616.5M225.5 608.4V616.8M226.5 610.1V616.8M227.5 610.2V617.0M228.5 608.0V616.1M229.5 608.7V617.0M230.5 607.7V616.8M231.5 610.4V616.8M232.5 608.3V617.3M233.5 603.5V616.8M234.5 611.1V616.6M235.5 610.8V617.1M236.5 610.7V617.0M237.5 608.4V616.6M238.5 608.7V617.0M239.5 610.9V616.6M240.5 610.0V616.9M241.5 609.5V617.1M242.5 608.8V617.1M243.5 604.3V616.9M244.5 610.1V616.8M245.5 611.2V616.8M246.5 611.6V617.0M247.5 611.7V617.2M248.5 611.9V616.9M249.5 610.8V617.2M250.5 609.9V616.8M251.5 609.9V616.8M252.5 610.0V616.8M253.5 610.2V616.7M254.5 609.7V616.9M255.5 611.3V616.8M256.5 610.7V617.0M257.5 611.8V617.0M258.5 610.8V616.8M259.5 612.5V616.7M260.5 610.4V617.0M261.5 612.1V617.2M262.5 609.4V617.2M263.5 610.8V616.8M264.5 611.4V617.3M265.5 610.1V617.0M266.5 612.4V616.8M267.5 610.8V616.7M268.5 610.7V616.7M269.5 611.8V617.1M270.5 611.2V616.9M271.5 611.6V617.2M272.5 610.9V617.0M273.5 610.2V617.2M274.5 610.5V617.0M275.5 612.4V617.1M276.5 610.2V616.7M277.5 611.6V617.2M278.5 611.5V616.9M279.5 609.5V617.2M280.5 612.1V617.1M281.5 611.3V617.2M282.5 611.9V616.9M283.5 611.0V617.1M284.5 610.5V617.2M285.5 610.3V616.9M286.5 611.6V617.0M287.5 612.5V616.9M288.5 610.4V617.1M289.5 611.7V617.2M290.5 612.0V617.2M291.5 612.3V617.1M292.5 610.7V617.1M293.5 611.2V616.8M294.5 610.9V617.2M295.5 611.0V616.8M296.5 612.7V617.1M297.5 612.1V617.1M298.5 610.4V617.1M299.5 612.3V617.1M300.5 612.0V617.1M301.5 611.3V616.9M302.5 610.9V617.0M303.5 612.3V617.0M304.5 612.4V616.8M305.5 612.5V617.1M306.5 611.7V617.0M307.5 611.5V616.9M308.5 610.5V617.2M309.5 611.7V617.2M310.5 610.6V616.9M311.5 611.9V617.1M312.5 611.3V617.0M313.5 612.8V616.6M314.5 610.0V617.0M315.5 612.7V616.9M316.5 611.2V616.6M317.5 612.4V616.7M318.5 612.5V616.5M319.5 611.0V616.8M320.5 611.0V616.9M321.5 609.5V616.6M322.5 612.2V616.8M323.5 612.8V616.6M324.5 612.5V617.1M325.5 613.3V616.6M326.5 612.4V616.7M327.5 610.6V617.2M328.5 612.1V617.0M329.5 612.6V617.2M330.5 612.7V616.9M331.5 610.5V617.0M332.5 613.4V617.2M333.5 612.2V617.2M334.5 612.2V617.4M335.5 613.1V617.3M336.5 612.1V617.1M337.5 611.9V617.1M338.5 613.4V617.2M339.5 613.2V617.5M340.5 612.8V617.3M341.5 613.6V617.4M342.5 614.0V617.4M343.5 611.1V617.4M344.5 612.3V617.4M345.5 611.3V617.5M346.5 611.9V617.2M347.5 613.6V617.5M348.5 613.3V617.7M349.5 612.5V617.7M350.5 614.0V617.6M351.5 613.8V617.7M352.5 613.2V617.7M353.5 613.1V617.3M354.5 613.3V617.7M355.5 611.3V617.4M356.5 613.0V617.3M357.5 614.5V617.5M358.5 613.2V617.8M359.5 614.2V617.9M360.5 614.2V617.8M361.5 613.3V617.6M362.5 614.1V617.9M363.5 612.9V617.5M364.5 613.1V617.9M365.5 613.1V617.8M366.5 612.5V618.0M367.5 614.7V618.0M368.5 613.1V617.7M369.5 614.1V618.0M370.5 612.6V617.8M371.5 613.5V618.2M372.5 613.9V618.1M373.5 613.6V617.9M374.5 614.1V618.3M375.5 613.6V618.2M376.5 613.7V618.1M377.5 613.2V617.8M378.5 613.3V617.9M379.5 613.5V618.4M380.5 613.8V618.2M381.5 613.7V618.4M382.5 614.2V618.2M383.5 613.5V618.4M384.5 613.6V617.9M385.5 614.1V618.5M386.5 614.0V618.0M387.5 614.3V618.2M388.5 614.6V618.1M389.5 614.5V618.5M390.5 614.4V618.2M391.5 614.3V618.5M392.5 614.5V618.6M393.5 614.7V618.5M394.5 613.1V618.1M395.5 615.2V618.7M396.5 614.7V618.6M397.5 614.8V618.4M398.5 615.3V618.7M399.5 613.7V618.8M400.5 614.6V618.7M401.5 614.1V618.5M402.5 614.3V618.7M403.5 612.7V618.4M404.5 614.5V618.7M405.5 615.3V618.6M406.5 615.5V618.9M407.5 614.0V619.0M408.5 615.0V618.7M409.5 615.3V618.8M410.5 615.1V619.0M411.5 615.0V618.8M412.5 615.5V618.6M413.5 614.7V619.2M414.5 615.7V618.9M415.5 614.9V618.8M416.5 615.4V618.7M417.5 614.7V619.1M418.5 615.6V619.0M419.5 615.5V618.8M420.5 615.8V618.9M421.5 615.3V618.8M422.5 614.5V618.9M423.5 615.5V619.1M424.5 615.8V619.2M425.5 615.2V619.1M426.5 616.8V619.6M427.5 616.8V619.3M428.5 615.4V619.2M429.5 615.3V619.6M430.5 616.6V619.4M431.5 616.3V619.6M432.5 616.3V619.7M433.5 616.2V619.9M434.5 617.4V619.9M435.5 617.4V620.0M436.5 616.3V620.1M437.5 616.5V619.8M438.5 616.6V620.1M439.5 617.0V620.1M440.5 617.7V620.1M441.5 617.1V620.4M442.5 616.4V620.5M443.5 617.3V620.1M444.5 615.6V620.5M445.5 617.7V620.5M446.5 617.9V620.3M447.5 618.1V620.7M448.5 617.8V620.5M449.5 617.0V620.7M450.5 617.2V620.8M451.5 618.3V621.0M452.5 617.4V621.0M453.5 617.6V621.1M454.5 617.7V621.1M455.5 618.7V621.0M456.5 617.4V620.9M457.5 617.6V621.0M458.5 618.0V621.2M459.5 618.3V621.5M460.5 618.8V621.5M461.5 618.9V621.4M462.5 617.9V621.4M463.5 618.9V621.7M464.5 618.2V621.7M465.5 618.5V621.7M466.5 618.9V621.8M467.5 618.0V621.7M468.5 618.7V622.0M469.5 618.0V622.1M470.5 618.5V622.2M471.5 619.5V621.8M472.5 618.0V622.0M473.5 618.9V622.3M474.5 618.3V622.4M475.5 619.2V622.4M476.5 620.2V622.1M477.5 620.0V622.2M478.5 619.1V622.7M479.5 619.7V622.2M480.5 619.7V622.4M481.5 619.9V622.8M482.5 619.8V622.8M483.5 619.7V622.7M484.5 620.2V622.5M485.5 619.5V623.1M486.5 619.7V622.8M487.5 619.8V623.1M488.5 620.3V623.0M489.5 619.8V622.9M490.5 620.0V623.3M491.5 620.9V623.3M492.5 621.0V623.1M493.5 620.4V623.2M494.5 620.3V623.4M495.5 621.4V623.2M496.5 620.5V623.3M497.5 621.2V623.6M498.5 621.2V623.9M499.5 620.5V624.0M500.5 621.7V623.9M501.5 621.4V623.5M502.5 621.9V624.1M503.5 621.3V624.1M504.5 621.0V624.1M505.5 621.9V624.2M506.5 620.9V623.9M507.5 621.0V624.4M508.5 621.1V624.4M509.5 622.2V624.1M510.5 620.8V624.1M511.5 621.4V624.5M512.5 621.5V624.5M513.5 622.1V624.5M514.5 622.5V624.6M515.5 621.9V624.3M516.5 622.3V624.8M517.5 621.8V624.5M518.5 622.4V624.7M519.5 621.8V624.7M520.5 622.1V624.9M521.5 621.8V624.8M522.5 622.6V624.6M523.5 621.8V624.6M524.5 622.7V625.0M525.5 622.5V625.1M526.5 622.7V624.8M527.5 623.2V625.2M528.5 623.4V625.0M529.5 623.2V624.9M530.5 622.8V625.0M531.5 622.5V625.1M532.5 623.1V624.9M533.5 622.5V625.5M534.5 622.3V625.0M535.5 623.1V625.2M536.5 623.1V625.5M537.5 623.1V625.7M538.5 623.6V625.7M539.5 623.1V625.4M540.5 623.7V625.3M541.5 623.2V625.6M542.5 623.9V625.7M543.5 624.0V625.8M544.5 623.5V626.0M545.5 623.1V626.0M546.5 624.2V625.5M547.5 623.5V625.7M548.5 622.7V626.1M549.5 623.9V625.8M550.5 623.6V626.1M551.5 622.8V625.9M552.5 623.8V625.9M553.5 624.1V626.3M554.5 624.0V626.3M555.5 624.4V626.4M556.5 624.1V626.4M557.5 622.8V626.5M558.5 624.3V626.4M559.5 624.2V626.5M560.5 624.5V626.4M561.5 624.6V626.6M562.5 624.1V626.3M563.5 624.2V626.4M564.5 624.7V626.7M565.5 624.7V626.4M566.5 624.8V626.4M567.5 624.6V626.6M568.5 624.5V626.9M569.5 624.8V626.9M570.5 625.4V627.0M571.5 625.3V627.0M572.5 625.0V626.8M573.5 624.9V626.9M574.5 625.2V627.2M575.5 625.6V627.3M576.5 625.5V626.8M577.5 625.2V627.0M578.5 624.4V627.5M579.5 625.4V627.3M580.5 625.9V627.1M581.5 625.7V627.5M582.5 626.0V627.3" stroke="#000" stroke-width="1" fill="none"/>
<path d="M28.5 595.0V606.5M35.5 604.6V609.0M36.5 605.9V611.0M37.5 603.2V606.3M39.5 601.9V608.1M40.5 605.6V609.7M42.5 605.7V609.2M43.5 605.7V611.7M44.5 602.4V605.9M47.5 608.3V611.7M48.5 607.2V610.2M49.5 607.0V610.0M56.5 606.7V609.2M74.5 604.6V607.6M82.5 605.7V609.4M84.5 607.3V611.0M88.5 599.2V606.1M90.5 606.9V610.7M91.5 597.0V600.3M94.5 603.3V609.1M96.5 603.9V611.3M99.5 602.3V608.0M100.5 601.5V608.0M101.5 597.7V602.8M102.5 600.0V608.8M106.5 589.4V601.2M109.5 583.2V593.2M116.5 591.2V608.4M119.5 591.1V598.0M134.5 592.6V599.4M138.5 604.7V608.7M139.5 603.9V611.2M140.5 595.8V604.0M143.5 606.6V610.5M150.5 600.0V605.4M151.5 601.4V605.2M154.5 606.2V612.8M155.5 600.4V604.7M156.5 599.7V606.9M157.5 603.5V610.1M158.5 601.4V605.2M161.5 608.5V611.5M163.5 601.1V608.1M166.5 604.0V606.7M175.5 606.0V608.5M177.5 607.1V609.5M180.5 610.8V613.4M186.5 607.4V611.1M189.5 612.0V614.1M195.5 609.6V613.6M200.5 610.2V612.7" stroke="#fff" stroke-opacity="0.18" stroke-width="1" fill="none"/>
</g>
<rect x="20.9" y="2.1" width="563.3" height="311.4" fill="none" stroke="#3c3cd2" stroke-width="1.7"/>
<line x1="19.3" y1="313.4" x2="21.7" y2="313.4" stroke="#15154a" stroke-width="1"/>
<text x="15.6" y="315.7" font-size="6.4" textLength="2.7" lengthAdjust="spacingAndGlyphs" fill="#2a2a2a" stroke="#2a2a2a" stroke-width="0.22">0</text>
<line x1="19.3" y1="229.3" x2="21.7" y2="229.3" stroke="#15154a" stroke-width="1"/>
<text x="10.2" y="231.6" font-size="6.4" textLength="8.1" lengthAdjust="spacingAndGlyphs" fill="#2a2a2a" stroke="#2a2a2a" stroke-width="0.22">200</text>
<line x1="19.3" y1="145.3" x2="21.7" y2="145.3" stroke="#15154a" stroke-width="1"/>
<text x="10.2" y="147.6" font-size="6.4" textLength="8.1" lengthAdjust="spacingAndGlyphs" fill="#2a2a2a" stroke="#2a2a2a" stroke-width="0.22">400</text>
<line x1="19.3" y1="61.2" x2="21.7" y2="61.2" stroke="#15154a" stroke-width="1"/>
<text x="10.2" y="63.5" font-size="6.4" textLength="8.1" lengthAdjust="spacingAndGlyphs" fill="#2a2a2a" stroke="#2a2a2a" stroke-width="0.22">600</text>
<line x1="20.0" y1="271.4" x2="21.7" y2="271.4" stroke="#15154a" stroke-width="1"/>
<line x1="20.0" y1="187.3" x2="21.7" y2="187.3" stroke="#15154a" stroke-width="1"/>
<line x1="20.0" y1="103.2" x2="21.7" y2="103.2" stroke="#15154a" stroke-width="1"/>
<line x1="20.0" y1="19.2" x2="21.7" y2="19.2" stroke="#15154a" stroke-width="1"/>
<text x="21.8" y="321.0" font-size="5.8" textLength="11.0" lengthAdjust="spacingAndGlyphs" fill="#2a2a2a" stroke="#2a2a2a" stroke-width="0.22">1600</text>
<text x="76.3" y="321.0" font-size="5.8" textLength="11.0" lengthAdjust="spacingAndGlyphs" fill="#2a2a2a" stroke="#2a2a2a" stroke-width="0.22">1700</text>
<text x="130.9" y="321.0" font-size="5.8" textLength="11.0" lengthAdjust="spacingAndGlyphs" fill="#2a2a2a" stroke="#2a2a2a" stroke-width="0.22">1800</text>
<text x="185.4" y="321.0" font-size="5.8" textLength="11.0" lengthAdjust="spacingAndGlyphs" fill="#2a2a2a" stroke="#2a2a2a" stroke-width="0.22">1900</text>
<text x="240.0" y="321.0" font-size="5.8" textLength="11.0" lengthAdjust="spacingAndGlyphs" fill="#2a2a2a" stroke="#2a2a2a" stroke-width="0.22">2000</text>
<text x="294.5" y="321.0" font-size="5.8" textLength="11.0" lengthAdjust="spacingAndGlyphs" fill="#2a2a2a" stroke="#2a2a2a" stroke-width="0.22">2100</text>
<text x="349.0" y="321.0" font-size="5.8" textLength="11.0" lengthAdjust="spacingAndGlyphs" fill="#2a2a2a" stroke="#2a2a2a" stroke-width="0.22">2200</text>
<text x="403.6" y="321.0" font-size="5.8" textLength="11.0" lengthAdjust="spacingAndGlyphs" fill="#2a2a2a" stroke="#2a2a2a" stroke-width="0.22">2300</text>
<text x="458.1" y="321.0" font-size="5.8" textLength="11.0" lengthAdjust="spacingAndGlyphs" fill="#2a2a2a" stroke="#2a2a2a" stroke-width="0.22">2400</text>
<text x="512.7" y="321.0" font-size="5.8" textLength="11.0" lengthAdjust="spacingAndGlyphs" fill="#2a2a2a" stroke="#2a2a2a" stroke-width="0.22">2500</text>
<line x1="27.3" y1="312.7" x2="27.3" y2="314.9" stroke="#15154a" stroke-width="1"/>
<line x1="38.2" y1="312.7" x2="38.2" y2="314.9" stroke="#15154a" stroke-width="1"/>
<line x1="49.1" y1="312.7" x2="49.1" y2="314.9" stroke="#15154a" stroke-width="1"/>
<line x1="60.0" y1="312.7" x2="60.0" y2="314.9" stroke="#15154a" stroke-width="1"/>
<line x1="70.9" y1="312.7" x2="70.9" y2="314.9" stroke="#15154a" stroke-width="1"/>
<line x1="81.8" y1="312.7" x2="81.8" y2="314.9" stroke="#15154a" stroke-width="1"/>
<line x1="92.7" y1="312.7" x2="92.7" y2="314.9" stroke="#15154a" stroke-width="1"/>
<line x1="103.7" y1="312.7" x2="103.7" y2="314.9" stroke="#15154a" stroke-width="1"/>
<line x1="114.6" y1="312.7" x2="114.6" y2="314.9" stroke="#15154a" stroke-width="1"/>
<line x1="125.5" y1="312.7" x2="125.5" y2="314.9" stroke="#15154a" stroke-width="1"/>
<line x1="136.4" y1="312.7" x2="136.4" y2="314.9" stroke="#15154a" stroke-width="1"/>
<line x1="147.3" y1="312.7" x2="147.3" y2="314.9" stroke="#15154a" stroke-width="1"/>
<line x1="158.2" y1="312.7" x2="158.2" y2="314.9" stroke="#15154a" stroke-width="1"/>
<line x1="169.1" y1="312.7" x2="169.1" y2="314.9" stroke="#15154a" stroke-width="1"/>
<line x1="180.0" y1="312.7" x2="180.0" y2="314.9" stroke="#15154a" stroke-width="1"/>
<line x1="190.9" y1="312.7" x2="190.9" y2="314.9" stroke="#15154a" stroke-width="1"/>
<line x1="201.8" y1="312.7" x2="201.8" y2="314.9" stroke="#15154a" stroke-width="1"/>
<line x1="212.7" y1="312.7" x2="212.7" y2="314.9" stroke="#15154a" stroke-width="1"/>
<line x1="223.6" y1="312.7" x2="223.6" y2="314.9" stroke="#15154a" stroke-width="1"/>
<line x1="234.6" y1="312.7" x2="234.6" y2="314.9" stroke="#15154a" stroke-width="1"/>
<line x1="245.5" y1="312.7" x2="245.5" y2="314.9" stroke="#15154a" stroke-width="1"/>
<line x1="256.4" y1="312.7" x2="256.4" y2="314.9" stroke="#15154a" stroke-width="1"/>
<line x1="267.3" y1="312.7" x2="267.3" y2="314.9" stroke="#15154a" stroke-width="1"/>
<line x1="278.2" y1="312.7" x2="278.2" y2="314.9" stroke="#15154a" stroke-width="1"/>
<line x1="289.1" y1="312.7" x2="289.1" y2="314.9" stroke="#15154a" stroke-width="1"/>
<line x1="300.0" y1="312.7" x2="300.0" y2="314.9" stroke="#15154a" stroke-width="1"/>
<line x1="310.9" y1="312.7" x2="310.9" y2="314.9" stroke="#15154a" stroke-width="1"/>
<line x1="321.8" y1="312.7" x2="321.8" y2="314.9" stroke="#15154a" stroke-width="1"/>
<line x1="332.7" y1="312.7" x2="332.7" y2="314.9" stroke="#15154a" stroke-width="1"/>
<line x1="343.6" y1="312.7" x2="343.6" y2="314.9" stroke="#15154a" stroke-width="1"/>
<line x1="354.5" y1="312.7" x2="354.5" y2="314.9" stroke="#15154a" stroke-width="1"/>
<line x1="365.4" y1="312.7" x2="365.4" y2="314.9" stroke="#15154a" stroke-width="1"/>
<line x1="376.4" y1="312.7" x2="376.4" y2="314.9" stroke="#15154a" stroke-width="1"/>
<line x1="387.3" y1="312.7" x2="387.3" y2="314.9" stroke="#15154a" stroke-width="1"/>
<line x1="398.2" y1="312.7" x2="398.2" y2="314.9" stroke="#15154a" stroke-width="1"/>
<line x1="409.1" y1="312.7" x2="409.1" y2="314.9" stroke="#15154a" stroke-width="1"/>
<line x1="420.0" y1="312.7" x2="420.0" y2="314.9" stroke="#15154a" stroke-width="1"/>
<line x1="430.9" y1="312.7" x2="430.9" y2="314.9" stroke="#15154a" stroke-width="1"/>
<line x1="441.8" y1="312.7" x2="441.8" y2="314.9" stroke="#15154a" stroke-width="1"/>
<line x1="452.7" y1="312.7" x2="452.7" y2="314.9" stroke="#15154a" stroke-width="1"/>
<line x1="463.6" y1="312.7" x2="463.6" y2="314.9" stroke="#15154a" stroke-width="1"/>
<line x1="474.5" y1="312.7" x2="474.5" y2="314.9" stroke="#15154a" stroke-width="1"/>
<line x1="485.4" y1="312.7" x2="485.4" y2="314.9" stroke="#15154a" stroke-width="1"/>
<line x1="496.3" y1="312.7" x2="496.3" y2="314.9" stroke="#15154a" stroke-width="1"/>
<line x1="507.3" y1="312.7" x2="507.3" y2="314.9" stroke="#15154a" stroke-width="1"/>
<line x1="518.2" y1="312.7" x2="518.2" y2="314.9" stroke="#15154a" stroke-width="1"/>
<line x1="529.1" y1="312.7" x2="529.1" y2="314.9" stroke="#15154a" stroke-width="1"/>
<line x1="540.0" y1="312.7" x2="540.0" y2="314.9" stroke="#15154a" stroke-width="1"/>
<line x1="550.9" y1="312.7" x2="550.9" y2="314.9" stroke="#15154a" stroke-width="1"/>
<line x1="561.8" y1="312.7" x2="561.8" y2="314.9" stroke="#15154a" stroke-width="1"/>
<line x1="572.7" y1="312.7" x2="572.7" y2="314.9" stroke="#15154a" stroke-width="1"/>
<line x1="583.6" y1="312.7" x2="583.6" y2="314.9" stroke="#15154a" stroke-width="1"/>
<rect x="21.6" y="326.0" width="561.2" height="310.9" fill="none" stroke="#3c3cd2" stroke-width="1.7"/>
<line x1="20.0" y1="636.7" x2="22.4" y2="636.7" stroke="#15154a" stroke-width="1"/>
<text x="16.6" y="639.0" font-size="6.4" textLength="2.7" lengthAdjust="spacingAndGlyphs" fill="#2a2a2a" stroke="#2a2a2a" stroke-width="0.22">0</text>
<line x1="20.0" y1="591.0" x2="22.4" y2="591.0" stroke="#15154a" stroke-width="1"/>
<text x="11.2" y="593.3" font-size="6.4" textLength="8.1" lengthAdjust="spacingAndGlyphs" fill="#2a2a2a" stroke="#2a2a2a" stroke-width="0.22">100</text>
<line x1="20.0" y1="545.3" x2="22.4" y2="545.3" stroke="#15154a" stroke-width="1"/>
<text x="11.2" y="547.6" font-size="6.4" textLength="8.1" lengthAdjust="spacingAndGlyphs" fill="#2a2a2a" stroke="#2a2a2a" stroke-width="0.22">200</text>
<line x1="20.0" y1="499.6" x2="22.4" y2="499.6" stroke="#15154a" stroke-width="1"/>
<text x="11.2" y="501.9" font-size="6.4" textLength="8.1" lengthAdjust="spacingAndGlyphs" fill="#2a2a2a" stroke="#2a2a2a" stroke-width="0.22">300</text>
<line x1="20.0" y1="453.9" x2="22.4" y2="453.9" stroke="#15154a" stroke-width="1"/>
<text x="11.2" y="456.2" font-size="6.4" textLength="8.1" lengthAdjust="spacingAndGlyphs" fill="#2a2a2a" stroke="#2a2a2a" stroke-width="0.22">400</text>
<line x1="20.0" y1="408.2" x2="22.4" y2="408.2" stroke="#15154a" stroke-width="1"/>
<text x="11.2" y="410.5" font-size="6.4" textLength="8.1" lengthAdjust="spacingAndGlyphs" fill="#2a2a2a" stroke="#2a2a2a" stroke-width="0.22">500</text>
<line x1="20.0" y1="362.5" x2="22.4" y2="362.5" stroke="#15154a" stroke-width="1"/>
<text x="11.2" y="364.8" font-size="6.4" textLength="8.1" lengthAdjust="spacingAndGlyphs" fill="#2a2a2a" stroke="#2a2a2a" stroke-width="0.22">600</text>
<line x1="20.7" y1="627.6" x2="22.4" y2="627.6" stroke="#15154a" stroke-width="1"/>
<line x1="20.7" y1="618.4" x2="22.4" y2="618.4" stroke="#15154a" stroke-width="1"/>
<line x1="20.7" y1="609.3" x2="22.4" y2="609.3" stroke="#15154a" stroke-width="1"/>
<line x1="20.7" y1="600.1" x2="22.4" y2="600.1" stroke="#15154a" stroke-width="1"/>
<line x1="20.7" y1="581.9" x2="22.4" y2="581.9" stroke="#15154a" stroke-width="1"/>
<line x1="20.7" y1="572.7" x2="22.4" y2="572.7" stroke="#15154a" stroke-width="1"/>
<line x1="20.7" y1="563.6" x2="22.4" y2="563.6" stroke="#15154a" stroke-width="1"/>
<line x1="20.7" y1="554.4" x2="22.4" y2="554.4" stroke="#15154a" stroke-width="1"/>
<line x1="20.7" y1="536.2" x2="22.4" y2="536.2" stroke="#15154a" stroke-width="1"/>
<line x1="20.7" y1="527.0" x2="22.4" y2="527.0" stroke="#15154a" stroke-width="1"/>
<line x1="20.7" y1="517.9" x2="22.4" y2="517.9" stroke="#15154a" stroke-width="1"/>
<line x1="20.7" y1="508.7" x2="22.4" y2="508.7" stroke="#15154a" stroke-width="1"/>
<line x1="20.7" y1="490.5" x2="22.4" y2="490.5" stroke="#15154a" stroke-width="1"/>
<line x1="20.7" y1="481.3" x2="22.4" y2="481.3" stroke="#15154a" stroke-width="1"/>
<line x1="20.7" y1="472.2" x2="22.4" y2="472.2" stroke="#15154a" stroke-width="1"/>
<line x1="20.7" y1="463.0" x2="22.4" y2="463.0" stroke="#15154a" stroke-width="1"/>
<line x1="20.7" y1="444.8" x2="22.4" y2="444.8" stroke="#15154a" stroke-width="1"/>
<line x1="20.7" y1="435.6" x2="22.4" y2="435.6" stroke="#15154a" stroke-width="1"/>
<line x1="20.7" y1="426.5" x2="22.4" y2="426.5" stroke="#15154a" stroke-width="1"/>
<line x1="20.7" y1="417.3" x2="22.4" y2="417.3" stroke="#15154a" stroke-width="1"/>
<line x1="20.7" y1="399.1" x2="22.4" y2="399.1" stroke="#15154a" stroke-width="1"/>
<line x1="20.7" y1="389.9" x2="22.4" y2="389.9" stroke="#15154a" stroke-width="1"/>
<line x1="20.7" y1="380.8" x2="22.4" y2="380.8" stroke="#15154a" stroke-width="1"/>
<line x1="20.7" y1="371.6" x2="22.4" y2="371.6" stroke="#15154a" stroke-width="1"/>
<line x1="20.7" y1="353.4" x2="22.4" y2="353.4" stroke="#15154a" stroke-width="1"/>
<line x1="20.7" y1="344.2" x2="22.4" y2="344.2" stroke="#15154a" stroke-width="1"/>
<line x1="20.7" y1="335.1" x2="22.4" y2="335.1" stroke="#15154a" stroke-width="1"/>
<text x="23.1" y="644.1" font-size="5.8" textLength="11.0" lengthAdjust="spacingAndGlyphs" fill="#2a2a2a" stroke="#2a2a2a" stroke-width="0.22">1600</text>
<text x="77.3" y="644.1" font-size="5.8" textLength="11.0" lengthAdjust="spacingAndGlyphs" fill="#2a2a2a" stroke="#2a2a2a" stroke-width="0.22">1700</text>
<text x="131.5" y="644.1" font-size="5.8" textLength="11.0" lengthAdjust="spacingAndGlyphs" fill="#2a2a2a" stroke="#2a2a2a" stroke-width="0.22">1800</text>
<text x="185.7" y="644.1" font-size="5.8" textLength="11.0" lengthAdjust="spacingAndGlyphs" fill="#2a2a2a" stroke="#2a2a2a" stroke-width="0.22">1900</text>
<text x="239.9" y="644.1" font-size="5.8" textLength="11.0" lengthAdjust="spacingAndGlyphs" fill="#2a2a2a" stroke="#2a2a2a" stroke-width="0.22">2000</text>
<text x="294.1" y="644.1" font-size="5.8" textLength="11.0" lengthAdjust="spacingAndGlyphs" fill="#2a2a2a" stroke="#2a2a2a" stroke-width="0.22">2100</text>
<text x="348.3" y="644.1" font-size="5.8" textLength="11.0" lengthAdjust="spacingAndGlyphs" fill="#2a2a2a" stroke="#2a2a2a" stroke-width="0.22">2200</text>
<text x="402.5" y="644.1" font-size="5.8" textLength="11.0" lengthAdjust="spacingAndGlyphs" fill="#2a2a2a" stroke="#2a2a2a" stroke-width="0.22">2300</text>
<text x="456.7" y="644.1" font-size="5.8" textLength="11.0" lengthAdjust="spacingAndGlyphs" fill="#2a2a2a" stroke="#2a2a2a" stroke-width="0.22">2400</text>
<text x="510.9" y="644.1" font-size="5.8" textLength="11.0" lengthAdjust="spacingAndGlyphs" fill="#2a2a2a" stroke="#2a2a2a" stroke-width="0.22">2500</text>
<line x1="28.6" y1="636.1" x2="28.6" y2="638.3" stroke="#15154a" stroke-width="1"/>
<line x1="39.4" y1="636.1" x2="39.4" y2="638.3" stroke="#15154a" stroke-width="1"/>
<line x1="50.3" y1="636.1" x2="50.3" y2="638.3" stroke="#15154a" stroke-width="1"/>
<line x1="61.1" y1="636.1" x2="61.1" y2="638.3" stroke="#15154a" stroke-width="1"/>
<line x1="72.0" y1="636.1" x2="72.0" y2="638.3" stroke="#15154a" stroke-width="1"/>
<line x1="82.8" y1="636.1" x2="82.8" y2="638.3" stroke="#15154a" stroke-width="1"/>
<line x1="93.6" y1="636.1" x2="93.6" y2="638.3" stroke="#15154a" stroke-width="1"/>
<line x1="104.5" y1="636.1" x2="104.5" y2="638.3" stroke="#15154a" stroke-width="1"/>
<line x1="115.3" y1="636.1" x2="115.3" y2="638.3" stroke="#15154a" stroke-width="1"/>
<line x1="126.2" y1="636.1" x2="126.2" y2="638.3" stroke="#15154a" stroke-width="1"/>
<line x1="137.0" y1="636.1" x2="137.0" y2="638.3" stroke="#15154a" stroke-width="1"/>
<line x1="147.8" y1="636.1" x2="147.8" y2="638.3" stroke="#15154a" stroke-width="1"/>
<line x1="158.7" y1="636.1" x2="158.7" y2="638.3" stroke="#15154a" stroke-width="1"/>
<line x1="169.5" y1="636.1" x2="169.5" y2="638.3" stroke="#15154a" stroke-width="1"/>
<line x1="180.4" y1="636.1" x2="180.4" y2="638.3" stroke="#15154a" stroke-width="1"/>
<line x1="191.2" y1="636.1" x2="191.2" y2="638.3" stroke="#15154a" stroke-width="1"/>
<line x1="202.0" y1="636.1" x2="202.0" y2="638.3" stroke="#15154a" stroke-width="1"/>
<line x1="212.9" y1="636.1" x2="212.9" y2="638.3" stroke="#15154a" stroke-width="1"/>
<line x1="223.7" y1="636.1" x2="223.7" y2="638.3" stroke="#15154a" stroke-width="1"/>
<line x1="234.6" y1="636.1" x2="234.6" y2="638.3" stroke="#15154a" stroke-width="1"/>
<line x1="245.4" y1="636.1" x2="245.4" y2="638.3" stroke="#15154a" stroke-width="1"/>
<line x1="256.2" y1="636.1" x2="256.2" y2="638.3" stroke="#15154a" stroke-width="1"/>
<line x1="267.1" y1="636.1" x2="267.1" y2="638.3" stroke="#15154a" stroke-width="1"/>
<line x1="277.9" y1="636.1" x2="277.9" y2="638.3" stroke="#15154a" stroke-width="1"/>
<line x1="288.8" y1="636.1" x2="288.8" y2="638.3" stroke="#15154a" stroke-width="1"/>
<line x1="299.6" y1="636.1" x2="299.6" y2="638.3" stroke="#15154a" stroke-width="1"/>
<line x1="310.4" y1="636.1" x2="310.4" y2="638.3" stroke="#15154a" stroke-width="1"/>
<line x1="321.3" y1="636.1" x2="321.3" y2="638.3" stroke="#15154a" stroke-width="1"/>
<line x1="332.1" y1="636.1" x2="332.1" y2="638.3" stroke="#15154a" stroke-width="1"/>
<line x1="343.0" y1="636.1" x2="343.0" y2="638.3" stroke="#15154a" stroke-width="1"/>
<line x1="353.8" y1="636.1" x2="353.8" y2="638.3" stroke="#15154a" stroke-width="1"/>
<line x1="364.6" y1="636.1" x2="364.6" y2="638.3" stroke="#15154a" stroke-width="1"/>
<line x1="375.5" y1="636.1" x2="375.5" y2="638.3" stroke="#15154a" stroke-width="1"/>
<line x1="386.3" y1="636.1" x2="386.3" y2="638.3" stroke="#15154a" stroke-width="1"/>
<line x1="397.2" y1="636.1" x2="397.2" y2="638.3" stroke="#15154a" stroke-width="1"/>
<line x1="408.0" y1="636.1" x2="408.0" y2="638.3" stroke="#15154a" stroke-width="1"/>
<line x1="418.8" y1="636.1" x2="418.8" y2="638.3" stroke="#15154a" stroke-width="1"/>
<line x1="429.7" y1="636.1" x2="429.7" y2="638.3" stroke="#15154a" stroke-width="1"/>
<line x1="440.5" y1="636.1" x2="440.5" y2="638.3" stroke="#15154a" stroke-width="1"/>
<line x1="451.4" y1="636.1" x2="451.4" y2="638.3" stroke="#15154a" stroke-width="1"/>
<line x1="462.2" y1="636.1" x2="462.2" y2="638.3" stroke="#15154a" stroke-width="1"/>
<line x1="473.0" y1="636.1" x2="473.0" y2="638.3" stroke="#15154a" stroke-width="1"/>
<line x1="483.9" y1="636.1" x2="483.9" y2="638.3" stroke="#15154a" stroke-width="1"/>
<line x1="494.7" y1="636.1" x2="494.7" y2="638.3" stroke="#15154a" stroke-width="1"/>
<line x1="505.6" y1="636.1" x2="505.6" y2="638.3" stroke="#15154a" stroke-width="1"/>
<line x1="516.4" y1="636.1" x2="516.4" y2="638.3" stroke="#15154a" stroke-width="1"/>
<line x1="527.2" y1="636.1" x2="527.2" y2="638.3" stroke="#15154a" stroke-width="1"/>
<line x1="538.1" y1="636.1" x2="538.1" y2="638.3" stroke="#15154a" stroke-width="1"/>
<line x1="548.9" y1="636.1" x2="548.9" y2="638.3" stroke="#15154a" stroke-width="1"/>
<line x1="559.8" y1="636.1" x2="559.8" y2="638.3" stroke="#15154a" stroke-width="1"/>
<line x1="570.6" y1="636.1" x2="570.6" y2="638.3" stroke="#15154a" stroke-width="1"/>
<line x1="581.4" y1="636.1" x2="581.4" y2="638.3" stroke="#15154a" stroke-width="1"/>
<text x="3.6" y="6.1" font-size="6.0" textLength="14.5" lengthAdjust="spacingAndGlyphs" fill="#2a2a2a" stroke="#2a2a2a" stroke-width="0.22">Intens.</text>
<text x="4.5" y="330.4" font-size="6.0" textLength="14.1" lengthAdjust="spacingAndGlyphs" fill="#2a2a2a" stroke="#2a2a2a" stroke-width="0.22">Intens.</text>
<text x="520.9" y="7.7" font-size="4.9" textLength="61.6" lengthAdjust="spacingAndGlyphs" fill="#2a2a2a" stroke="#2a2a2a" stroke-width="0.1">-MS, 0.9-21.0min #(53-1254)</text>
<text x="522.7" y="331.3" font-size="4.9" textLength="58.9" lengthAdjust="spacingAndGlyphs" fill="#2a2a2a" stroke="#2a2a2a" stroke-width="0.1">-MS, 1.2-12.3min #(73-734)</text>
<text x="575.3" y="321.0" font-size="5.8" textLength="8.1" lengthAdjust="spacingAndGlyphs" fill="#2a2a2a" stroke="#2a2a2a" stroke-width="0.22">m/z</text>
<text x="573.9" y="644.1" font-size="5.8" textLength="7.6" lengthAdjust="spacingAndGlyphs" fill="#2a2a2a" stroke="#2a2a2a" stroke-width="0.22">m/z</text>
<text x="42.5" y="23.6" font-size="13.1" textLength="27.0" lengthAdjust="spacingAndGlyphs" fill="#000" stroke="#000" stroke-width="0.35"><tspan dy="-1">[</tspan><tspan dy="1">4:1</tspan><tspan dy="-1">]</tspan></text>
<text x="70.5" y="19.4" font-size="8.70" font-weight="bold" textLength="7.3" lengthAdjust="spacingAndGlyphs" fill="#000">5-</text>
<text x="54.8" y="197.4" font-size="13.1" textLength="26.4" lengthAdjust="spacingAndGlyphs" fill="#000" stroke="#000" stroke-width="0.35"><tspan dy="-1">[</tspan><tspan dy="1">5:1</tspan><tspan dy="-1">]</tspan></text>
<text x="82.2" y="193.2" font-size="8.70" font-weight="bold" textLength="7.3" lengthAdjust="spacingAndGlyphs" fill="#000">5-</text>
<text x="103.4" y="239.8" font-size="13.1" textLength="26.9" lengthAdjust="spacingAndGlyphs" fill="#000" stroke="#000" stroke-width="0.35"><tspan dy="-1">[</tspan><tspan dy="1">1:1</tspan><tspan dy="-1">]</tspan></text>
<text x="131.3" y="235.6" font-size="8.70" font-weight="bold" textLength="7.3" lengthAdjust="spacingAndGlyphs" fill="#000">4-</text>
<text x="143.7" y="223.0" font-size="13.1" textLength="25.6" lengthAdjust="spacingAndGlyphs" fill="#000" stroke="#000" stroke-width="0.35"><tspan dy="-1">[</tspan><tspan dy="1">8:1</tspan><tspan dy="-1">]</tspan></text>
<text x="170.3" y="218.8" font-size="8.70" font-weight="bold" textLength="7.3" lengthAdjust="spacingAndGlyphs" fill="#000">5-</text>
<text x="167.8" y="165.9" font-size="13.1" textLength="26.6" lengthAdjust="spacingAndGlyphs" fill="#000" stroke="#000" stroke-width="0.35"><tspan dy="-1">[</tspan><tspan dy="1">2:1</tspan><tspan dy="-1">]</tspan></text>
<text x="195.4" y="161.8" font-size="8.70" font-weight="bold" textLength="7.3" lengthAdjust="spacingAndGlyphs" fill="#000">4-</text>
<text x="202.3" y="141.8" font-size="13.1" textLength="26.4" lengthAdjust="spacingAndGlyphs" fill="#000" stroke="#000" stroke-width="0.35"><tspan dy="-1">[</tspan><tspan dy="1">3:1</tspan><tspan dy="-1">]</tspan></text>
<text x="229.7" y="137.6" font-size="8.70" font-weight="bold" textLength="7.3" lengthAdjust="spacingAndGlyphs" fill="#000">4-</text>
<text x="243.9" y="200.2" font-size="13.1" textLength="26.2" lengthAdjust="spacingAndGlyphs" fill="#000" stroke="#000" stroke-width="0.35"><tspan dy="-1">[</tspan><tspan dy="1">4:1</tspan><tspan dy="-1">]</tspan></text>
<text x="271.1" y="196.1" font-size="8.70" font-weight="bold" textLength="7.3" lengthAdjust="spacingAndGlyphs" fill="#000">4-</text>
<text x="281.2" y="255.1" font-size="13.1" textLength="25.1" lengthAdjust="spacingAndGlyphs" fill="#000" stroke="#000" stroke-width="0.35"><tspan dy="-1">[</tspan><tspan dy="1">5:1</tspan><tspan dy="-1">]</tspan></text>
<text x="307.3" y="250.9" font-size="8.70" font-weight="bold" textLength="7.3" lengthAdjust="spacingAndGlyphs" fill="#000">4-</text>
<text x="323.3" y="271.4" font-size="13.1" textLength="26.0" lengthAdjust="spacingAndGlyphs" fill="#000" stroke="#000" stroke-width="0.35"><tspan dy="-1">[</tspan><tspan dy="1">6:1</tspan><tspan dy="-1">]</tspan></text>
<text x="350.3" y="267.2" font-size="8.70" font-weight="bold" textLength="7.3" lengthAdjust="spacingAndGlyphs" fill="#000">4-</text>
<text x="367.4" y="270.1" font-size="13.1" textLength="25.0" lengthAdjust="spacingAndGlyphs" fill="#000" stroke="#000" stroke-width="0.35"><tspan dy="-1">[</tspan><tspan dy="1">7:1</tspan><tspan dy="-1">]</tspan></text>
<text x="393.4" y="265.9" font-size="8.70" font-weight="bold" textLength="7.3" lengthAdjust="spacingAndGlyphs" fill="#000">4-</text>
<text x="406.5" y="278.8" font-size="13.1" textLength="26.5" lengthAdjust="spacingAndGlyphs" fill="#000" stroke="#000" stroke-width="0.35"><tspan dy="-1">[</tspan><tspan dy="1">8:1</tspan><tspan dy="-1">]</tspan></text>
<text x="434.0" y="274.6" font-size="8.70" font-weight="bold" textLength="7.3" lengthAdjust="spacingAndGlyphs" fill="#000">4-</text>
<text x="501.5" y="283.9" font-size="13.1" textLength="27.3" lengthAdjust="spacingAndGlyphs" fill="#000" stroke="#000" stroke-width="0.35"><tspan dy="-1">[</tspan><tspan dy="1">2:1</tspan><tspan dy="-1">]</tspan></text>
<text x="529.8" y="279.7" font-size="8.70" font-weight="bold" textLength="7.3" lengthAdjust="spacingAndGlyphs" fill="#000">3-</text>
<text x="548.3" y="286.1" font-size="13.1" textLength="26.3" lengthAdjust="spacingAndGlyphs" fill="#000" stroke="#000" stroke-width="0.35"><tspan dy="-1">[</tspan><tspan dy="1">3:1</tspan><tspan dy="-1">]</tspan></text>
<text x="575.6" y="281.9" font-size="8.70" font-weight="bold" textLength="7.3" lengthAdjust="spacingAndGlyphs" fill="#000">3-</text>
<text x="115.4" y="354.1" font-size="13.1" textLength="17.1" lengthAdjust="spacingAndGlyphs" fill="#000" stroke="#000" stroke-width="0.35"><tspan dy="-1">[</tspan><tspan dy="1">Q</tspan><tspan dy="-1">]</tspan></text>
<text x="133.5" y="349.9" font-size="8.70" font-weight="bold" textLength="7.3" lengthAdjust="spacingAndGlyphs" fill="#000">4-</text>
<text x="130.1" y="486.1" font-size="13.1" textLength="25.1" lengthAdjust="spacingAndGlyphs" fill="#000" stroke="#000" stroke-width="0.35"><tspan dy="-1">[</tspan><tspan dy="1">1:1</tspan><tspan dy="-1">]</tspan></text>
<text x="156.2" y="481.9" font-size="8.70" font-weight="bold" textLength="7.3" lengthAdjust="spacingAndGlyphs" fill="#000">4-</text>
<text x="25.6" y="528.4" font-size="13.1" textLength="25.6" lengthAdjust="spacingAndGlyphs" fill="#000" stroke="#000" stroke-width="0.35"><tspan dy="-1">[</tspan><tspan dy="1">5:1</tspan><tspan dy="-1">]</tspan></text>
<text x="52.2" y="524.2" font-size="8.70" font-weight="bold" textLength="7.3" lengthAdjust="spacingAndGlyphs" fill="#000">5-</text>
<text x="51.2" y="550.7" font-size="13.1" textLength="26.1" lengthAdjust="spacingAndGlyphs" fill="#000" stroke="#000" stroke-width="0.35"><tspan dy="-1">[</tspan><tspan dy="1">6:1</tspan><tspan dy="-1">]</tspan></text>
<text x="78.3" y="546.5" font-size="8.70" font-weight="bold" textLength="7.3" lengthAdjust="spacingAndGlyphs" fill="#000">5-</text>
<text x="67.3" y="527.4" font-size="13.1" textLength="26.1" lengthAdjust="spacingAndGlyphs" fill="#000" stroke="#000" stroke-width="0.35"><tspan dy="-1">[</tspan><tspan dy="1">8:1</tspan><tspan dy="-1">]</tspan></text>
<text x="94.4" y="523.2" font-size="8.70" font-weight="bold" textLength="7.3" lengthAdjust="spacingAndGlyphs" fill="#000">5-</text>
<text x="159.0" y="534.6" font-size="13.1" textLength="26.8" lengthAdjust="spacingAndGlyphs" fill="#000" stroke="#000" stroke-width="0.35"><tspan dy="-1">[</tspan><tspan dy="1">2:1</tspan><tspan dy="-1">]</tspan></text>
<text x="186.8" y="530.4" font-size="8.70" font-weight="bold" textLength="7.3" lengthAdjust="spacingAndGlyphs" fill="#000">4-</text>
<text x="192.9" y="556.7" font-size="13.1" textLength="26.5" lengthAdjust="spacingAndGlyphs" fill="#000" stroke="#000" stroke-width="0.35"><tspan dy="-1">[</tspan><tspan dy="1">3:1</tspan><tspan dy="-1">]</tspan></text>
<text x="220.4" y="552.5" font-size="8.70" font-weight="bold" textLength="7.3" lengthAdjust="spacingAndGlyphs" fill="#000">4-</text>
<text x="229.3" y="575.8" font-size="13.1" textLength="26.7" lengthAdjust="spacingAndGlyphs" fill="#000" stroke="#000" stroke-width="0.35"><tspan dy="-1">[</tspan><tspan dy="1">4:1</tspan><tspan dy="-1">]</tspan></text>
<text x="257.0" y="571.5" font-size="8.70" font-weight="bold" textLength="7.3" lengthAdjust="spacingAndGlyphs" fill="#000">4-</text>
<text x="258.7" y="582.3" font-size="13.1" textLength="26.8" lengthAdjust="spacingAndGlyphs" fill="#000" stroke="#000" stroke-width="0.35"><tspan dy="-1">[</tspan><tspan dy="1">5:1</tspan><tspan dy="-1">]</tspan></text>
<text x="286.5" y="578.1" font-size="8.70" font-weight="bold" textLength="7.3" lengthAdjust="spacingAndGlyphs" fill="#000">4-</text>
<text x="292.8" y="586.6" font-size="13.1" textLength="26.7" lengthAdjust="spacingAndGlyphs" fill="#000" stroke="#000" stroke-width="0.35"><tspan dy="-1">[</tspan><tspan dy="1">6:1</tspan><tspan dy="-1">]</tspan></text>
<text x="320.5" y="582.4" font-size="8.70" font-weight="bold" textLength="7.3" lengthAdjust="spacingAndGlyphs" fill="#000">4-</text>
<text x="324.3" y="594.4" font-size="13.1" textLength="26.7" lengthAdjust="spacingAndGlyphs" fill="#000" stroke="#000" stroke-width="0.35"><tspan dy="-1">[</tspan><tspan dy="1">7:1</tspan><tspan dy="-1">]</tspan></text>
<text x="352.0" y="590.2" font-size="8.70" font-weight="bold" textLength="7.3" lengthAdjust="spacingAndGlyphs" fill="#000">4-</text>
<text x="366.0" y="598.5" font-size="13.1" textLength="24.7" lengthAdjust="spacingAndGlyphs" fill="#000" stroke="#000" stroke-width="0.35"><tspan dy="-1">[</tspan><tspan dy="1">8:1</tspan><tspan dy="-1">]</tspan></text>
<text x="392.0" y="594.3" font-size="8.70" font-weight="bold" textLength="7.3" lengthAdjust="spacingAndGlyphs" fill="#000">4-</text>
<text x="413.7" y="590.9" font-size="13.1" textLength="18.1" lengthAdjust="spacingAndGlyphs" fill="#000" stroke="#000" stroke-width="0.35"><tspan dy="-1">[</tspan><tspan dy="1">Q</tspan><tspan dy="-1">]</tspan></text>
<text x="432.8" y="586.6" font-size="8.70" font-weight="bold" textLength="7.3" lengthAdjust="spacingAndGlyphs" fill="#000">3-</text>
<text x="458.6" y="603.0" font-size="13.1" textLength="25.5" lengthAdjust="spacingAndGlyphs" fill="#000" stroke="#000" stroke-width="0.35"><tspan dy="-1">[</tspan><tspan dy="1">1:1</tspan><tspan dy="-1">]</tspan></text>
<text x="485.1" y="598.8" font-size="8.70" font-weight="bold" textLength="7.3" lengthAdjust="spacingAndGlyphs" fill="#000">3-</text>
<text x="498.6" y="606.0" font-size="13.1" textLength="25.0" lengthAdjust="spacingAndGlyphs" fill="#000" stroke="#000" stroke-width="0.35"><tspan dy="-1">[</tspan><tspan dy="1">2:1</tspan><tspan dy="-1">]</tspan></text>
<text x="525.0" y="601.8" font-size="8.70" font-weight="bold" textLength="7.3" lengthAdjust="spacingAndGlyphs" fill="#000">3-</text>
<text x="29.3" y="8.2" font-size="5.6" textLength="15.6" lengthAdjust="spacingAndGlyphs" fill="#2a2a2a" stroke="#2a2a2a" stroke-width="0.22">1617.3</text>
<text x="60.5" y="208.5" font-size="5.6" textLength="14.8" lengthAdjust="spacingAndGlyphs" fill="#2a2a2a" stroke="#2a2a2a" stroke-width="0.22">1673.6</text>
<text x="135.0" y="242.0" font-size="5.6" textLength="15.7" lengthAdjust="spacingAndGlyphs" fill="#2a2a2a" stroke="#2a2a2a" stroke-width="0.22">1810.8</text>
<text x="152.6" y="256.8" font-size="5.6" textLength="15.8" lengthAdjust="spacingAndGlyphs" fill="#2a2a2a" stroke="#2a2a2a" stroke-width="0.22">1843.3</text>
<text x="174.0" y="173.0" font-size="5.6" textLength="13.9" lengthAdjust="spacingAndGlyphs" fill="#2a2a2a" stroke="#2a2a2a" stroke-width="0.22">1881.1</text>
<text x="212.4" y="148.2" font-size="5.6" textLength="14.1" lengthAdjust="spacingAndGlyphs" fill="#2a2a2a" stroke="#2a2a2a" stroke-width="0.22">1951.4</text>
<text x="250.3" y="208.7" font-size="5.6" textLength="15.4" lengthAdjust="spacingAndGlyphs" fill="#2a2a2a" stroke="#2a2a2a" stroke-width="0.22">2021.9</text>
<text x="288.6" y="266.0" font-size="5.6" textLength="15.4" lengthAdjust="spacingAndGlyphs" fill="#2a2a2a" stroke="#2a2a2a" stroke-width="0.22">2092.2</text>
<text x="342.3" y="280.0" font-size="5.6" textLength="14.8" lengthAdjust="spacingAndGlyphs" fill="#2a2a2a" stroke="#2a2a2a" stroke-width="0.22">2160.4</text>
<text x="365.5" y="277.8" font-size="5.6" textLength="15.8" lengthAdjust="spacingAndGlyphs" fill="#2a2a2a" stroke="#2a2a2a" stroke-width="0.22">2233.7</text>
<text x="409.9" y="286.5" font-size="5.6" textLength="14.8" lengthAdjust="spacingAndGlyphs" fill="#2a2a2a" stroke="#2a2a2a" stroke-width="0.22">2314.0</text>
<text x="515.8" y="290.7" font-size="5.6" textLength="15.0" lengthAdjust="spacingAndGlyphs" fill="#2a2a2a" stroke="#2a2a2a" stroke-width="0.22">2508.5</text>
<text x="567.3" y="293.7" font-size="5.6" textLength="15.3" lengthAdjust="spacingAndGlyphs" fill="#2a2a2a" stroke="#2a2a2a" stroke-width="0.22">2602.5</text>
<text x="103.7" y="340.0" font-size="5.6" textLength="15.4" lengthAdjust="spacingAndGlyphs" fill="#2a2a2a" stroke="#2a2a2a" stroke-width="0.22">1751.5</text>
<text x="135.7" y="492.0" font-size="5.6" textLength="15.4" lengthAdjust="spacingAndGlyphs" fill="#2a2a2a" stroke="#2a2a2a" stroke-width="0.22">1811.3</text>
<text x="40.1" y="559.7" font-size="5.6" textLength="16.1" lengthAdjust="spacingAndGlyphs" fill="#2a2a2a" stroke="#2a2a2a" stroke-width="0.22">1635.9</text>
<text x="58.2" y="560.9" font-size="5.6" textLength="16.1" lengthAdjust="spacingAndGlyphs" fill="#2a2a2a" stroke="#2a2a2a" stroke-width="0.22">1669.3</text>
<text x="80.0" y="534.5" font-size="5.6" textLength="15.5" lengthAdjust="spacingAndGlyphs" fill="#2a2a2a" stroke="#2a2a2a" stroke-width="0.22">1708.3</text>
<text x="165.7" y="542.2" font-size="5.6" textLength="14.5" lengthAdjust="spacingAndGlyphs" fill="#2a2a2a" stroke="#2a2a2a" stroke-width="0.22">1865.6</text>
<text x="197.7" y="564.7" font-size="5.6" textLength="15.7" lengthAdjust="spacingAndGlyphs" fill="#2a2a2a" stroke="#2a2a2a" stroke-width="0.22">1925.4</text>
<text x="233.5" y="587.1" font-size="5.6" textLength="15.4" lengthAdjust="spacingAndGlyphs" fill="#2a2a2a" stroke="#2a2a2a" stroke-width="0.22">1990.6</text>
<text x="265.9" y="596.2" font-size="5.6" textLength="15.3" lengthAdjust="spacingAndGlyphs" fill="#2a2a2a" stroke="#2a2a2a" stroke-width="0.22">2050.4</text>
<text x="298.3" y="596.9" font-size="5.6" textLength="15.3" lengthAdjust="spacingAndGlyphs" fill="#2a2a2a" stroke="#2a2a2a" stroke-width="0.22">2110.5</text>
<text x="331.0" y="599.1" font-size="5.6" textLength="15.4" lengthAdjust="spacingAndGlyphs" fill="#2a2a2a" stroke="#2a2a2a" stroke-width="0.22">2170.0</text>
<text x="369.4" y="603.3" font-size="5.6" textLength="15.3" lengthAdjust="spacingAndGlyphs" fill="#2a2a2a" stroke="#2a2a2a" stroke-width="0.22">2241.0</text>
<text x="416.5" y="601.6" font-size="5.6" textLength="15.3" lengthAdjust="spacingAndGlyphs" fill="#2a2a2a" stroke="#2a2a2a" stroke-width="0.22">2328.0</text>
<text x="463.7" y="608.4" font-size="5.6" textLength="15.3" lengthAdjust="spacingAndGlyphs" fill="#2a2a2a" stroke="#2a2a2a" stroke-width="0.22">2415.4</text>
<text x="503.2" y="614.0" font-size="5.6" textLength="15.3" lengthAdjust="spacingAndGlyphs" fill="#2a2a2a" stroke="#2a2a2a" stroke-width="0.22">2487.8</text>
<g stroke="#111" stroke-width="1.3" fill="#111">
<line x1="162.7" y1="229.2" x2="161.6" y2="246"/>
<path d="M160.0 245.2 L161.5 249.6 L163.2 245.4 Z" stroke="none"/>
<line x1="41.1" y1="532.1" x2="44.6" y2="546.5"/>
<path d="M43.0 546.6 L45.3 550.0 L46.0 545.8 Z" stroke="none"/>
</g>
<text x="528.0" y="65" font-size="39" font-weight="bold" fill="#000">A</text>
<text x="0" y="0" font-size="38.5" font-weight="bold" fill="#000" transform="translate(528.6,388.2) scale(0.9,1)">B</text>
</svg></body></html>
